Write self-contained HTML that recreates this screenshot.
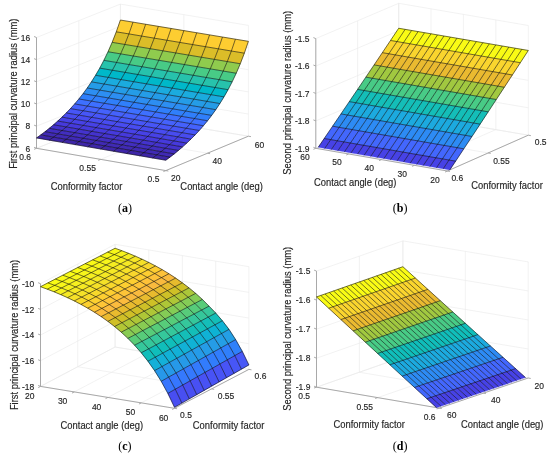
<!DOCTYPE html>
<html><head><meta charset="utf-8"><style>
html,body{margin:0;padding:0;background:#fff;}
svg{display:block;}
text{font-family:"Liberation Sans",Arial,sans-serif;fill:#262626;stroke:#262626;stroke-width:0.15px;}
</style></head><body>
<svg width="550" height="456" viewBox="0 0 550 456">
<rect width="550" height="456" fill="#fff"/>
<line x1="36.5" y1="148.3" x2="120.4" y2="114.9" stroke="#eaeaea" stroke-width="0.6"/>
<line x1="120.4" y1="114.9" x2="120.4" y2="4.1" stroke="#eaeaea" stroke-width="0.6"/>
<line x1="100.62" y1="159.36" x2="183.89" y2="125.46" stroke="#eaeaea" stroke-width="0.6"/>
<line x1="183.89" y1="125.46" x2="183.89" y2="14.66" stroke="#eaeaea" stroke-width="0.6"/>
<line x1="165.8" y1="170.6" x2="248.4" y2="136.2" stroke="#eaeaea" stroke-width="0.6"/>
<line x1="248.4" y1="136.2" x2="248.4" y2="25.4" stroke="#eaeaea" stroke-width="0.6"/>
<line x1="36.5" y1="148.3" x2="165.8" y2="170.6" stroke="#eaeaea" stroke-width="0.6"/>
<line x1="36.5" y1="148.3" x2="36.5" y2="37.5" stroke="#eaeaea" stroke-width="0.6"/>
<line x1="78.88" y1="131.43" x2="207.53" y2="153.22" stroke="#eaeaea" stroke-width="0.6"/>
<line x1="78.88" y1="131.43" x2="78.88" y2="20.63" stroke="#eaeaea" stroke-width="0.6"/>
<line x1="120.4" y1="114.9" x2="248.4" y2="136.2" stroke="#eaeaea" stroke-width="0.6"/>
<line x1="120.4" y1="114.9" x2="120.4" y2="4.1" stroke="#eaeaea" stroke-width="0.6"/>
<line x1="36.5" y1="148.3" x2="120.4" y2="114.9" stroke="#eaeaea" stroke-width="0.6"/>
<line x1="120.4" y1="114.9" x2="248.4" y2="136.2" stroke="#eaeaea" stroke-width="0.6"/>
<line x1="36.5" y1="126.14" x2="120.4" y2="92.74" stroke="#eaeaea" stroke-width="0.6"/>
<line x1="120.4" y1="92.74" x2="248.4" y2="114.04" stroke="#eaeaea" stroke-width="0.6"/>
<line x1="36.5" y1="103.98" x2="120.4" y2="70.58" stroke="#eaeaea" stroke-width="0.6"/>
<line x1="120.4" y1="70.58" x2="248.4" y2="91.88" stroke="#eaeaea" stroke-width="0.6"/>
<line x1="36.5" y1="81.82" x2="120.4" y2="48.42" stroke="#eaeaea" stroke-width="0.6"/>
<line x1="120.4" y1="48.42" x2="248.4" y2="69.72" stroke="#eaeaea" stroke-width="0.6"/>
<line x1="36.5" y1="59.66" x2="120.4" y2="26.26" stroke="#eaeaea" stroke-width="0.6"/>
<line x1="120.4" y1="26.26" x2="248.4" y2="47.56" stroke="#eaeaea" stroke-width="0.6"/>
<line x1="36.5" y1="37.5" x2="120.4" y2="4.1" stroke="#eaeaea" stroke-width="0.6"/>
<line x1="120.4" y1="4.1" x2="248.4" y2="25.4" stroke="#eaeaea" stroke-width="0.6"/>
<line x1="36.5" y1="148.3" x2="36.5" y2="37.5" stroke="#a0a0a0" stroke-width="0.9"/>
<line x1="36.5" y1="148.3" x2="165.8" y2="170.6" stroke="#a0a0a0" stroke-width="0.9"/>
<line x1="165.8" y1="170.6" x2="248.4" y2="136.2" stroke="#a0a0a0" stroke-width="0.9"/>
<line x1="36.5" y1="148.3" x2="34.1" y2="147.3" stroke="#a0a0a0" stroke-width="0.9"/>
<line x1="36.5" y1="126.14" x2="34.1" y2="125.14" stroke="#a0a0a0" stroke-width="0.9"/>
<line x1="36.5" y1="103.98" x2="34.1" y2="102.98" stroke="#a0a0a0" stroke-width="0.9"/>
<line x1="36.5" y1="81.82" x2="34.1" y2="80.82" stroke="#a0a0a0" stroke-width="0.9"/>
<line x1="36.5" y1="59.66" x2="34.1" y2="58.66" stroke="#a0a0a0" stroke-width="0.9"/>
<line x1="36.5" y1="37.5" x2="34.1" y2="36.5" stroke="#a0a0a0" stroke-width="0.9"/>
<line x1="36.5" y1="148.3" x2="34.1" y2="149.3" stroke="#a0a0a0" stroke-width="0.9"/>
<line x1="100.62" y1="159.36" x2="98.22" y2="160.36" stroke="#a0a0a0" stroke-width="0.9"/>
<line x1="165.8" y1="170.6" x2="163.4" y2="171.6" stroke="#a0a0a0" stroke-width="0.9"/>
<line x1="165.8" y1="170.6" x2="168.36" y2="171.04" stroke="#a0a0a0" stroke-width="0.9"/>
<line x1="207.53" y1="153.22" x2="210.09" y2="153.66" stroke="#a0a0a0" stroke-width="0.9"/>
<line x1="248.4" y1="136.2" x2="250.96" y2="136.64" stroke="#a0a0a0" stroke-width="0.9"/>
<polygon points="116.29,31.82 128.91,33.92 133.02,22.14 120.4,20.04" fill="#fdcd31" stroke="#fdcd31" stroke-width="0.3"/>
<polygon points="112.16,42.33 124.79,44.44 128.91,33.92 116.29,31.82" fill="#dbbd28" stroke="#dbbd28" stroke-width="0.3"/>
<polygon points="128.91,33.92 141.57,36.04 145.67,24.25 133.02,22.14" fill="#fdcd31" stroke="#fdcd31" stroke-width="0.3"/>
<polygon points="108.03,51.78 120.67,53.89 124.79,44.44 112.16,42.33" fill="#8fcb4e" stroke="#8fcb4e" stroke-width="0.3"/>
<polygon points="124.79,44.44 137.46,46.55 141.57,36.04 128.91,33.92" fill="#dbbd28" stroke="#dbbd28" stroke-width="0.3"/>
<polygon points="141.57,36.04 154.27,38.15 158.37,26.36 145.67,24.25" fill="#fdcd31" stroke="#fdcd31" stroke-width="0.3"/>
<polygon points="103.89,60.34 116.53,62.46 120.67,53.89 108.03,51.78" fill="#48cb86" stroke="#48cb86" stroke-width="0.3"/>
<polygon points="120.67,53.89 133.34,56.01 137.46,46.55 124.79,44.44" fill="#8fcb4e" stroke="#8fcb4e" stroke-width="0.3"/>
<polygon points="137.46,46.55 150.17,48.68 154.27,38.15 141.57,36.04" fill="#dbbd28" stroke="#dbbd28" stroke-width="0.3"/>
<polygon points="154.27,38.15 167.02,40.28 171.11,28.48 158.37,26.36" fill="#fdcd31" stroke="#fdcd31" stroke-width="0.3"/>
<polygon points="99.75,68.14 112.39,70.26 116.53,62.46 103.89,60.34" fill="#27c2ac" stroke="#27c2ac" stroke-width="0.3"/>
<polygon points="116.53,62.46 129.22,64.58 133.34,56.01 120.67,53.89" fill="#48cb86" stroke="#48cb86" stroke-width="0.3"/>
<polygon points="133.34,56.01 146.06,58.14 150.17,48.68 137.46,46.55" fill="#8fcb4e" stroke="#8fcb4e" stroke-width="0.3"/>
<polygon points="150.17,48.68 162.92,50.8 167.02,40.28 154.27,38.15" fill="#dbbd28" stroke="#dbbd28" stroke-width="0.3"/>
<polygon points="95.59,75.29 108.24,77.42 112.39,70.26 99.75,68.14" fill="#00b8c9" stroke="#00b8c9" stroke-width="0.3"/>
<polygon points="167.02,40.28 179.8,42.41 183.89,30.61 171.11,28.48" fill="#fdcd31" stroke="#fdcd31" stroke-width="0.3"/>
<polygon points="112.39,70.26 125.08,72.39 129.22,64.58 116.53,62.46" fill="#27c2ac" stroke="#27c2ac" stroke-width="0.3"/>
<polygon points="129.22,64.58 141.94,66.71 146.06,58.14 133.34,56.01" fill="#48cb86" stroke="#48cb86" stroke-width="0.3"/>
<polygon points="146.06,58.14 158.81,60.27 162.92,50.8 150.17,48.68" fill="#8fcb4e" stroke="#8fcb4e" stroke-width="0.3"/>
<polygon points="91.42,81.89 104.08,84.02 108.24,77.42 95.59,75.29" fill="#1babde" stroke="#1babde" stroke-width="0.3"/>
<polygon points="162.92,50.8 175.71,52.94 179.8,42.41 167.02,40.28" fill="#dbbd28" stroke="#dbbd28" stroke-width="0.3"/>
<polygon points="108.24,77.42 120.94,79.56 125.08,72.39 112.39,70.26" fill="#00b8c9" stroke="#00b8c9" stroke-width="0.3"/>
<polygon points="179.8,42.41 192.63,44.55 196.71,32.74 183.89,30.61" fill="#fdcd31" stroke="#fdcd31" stroke-width="0.3"/>
<polygon points="125.08,72.39 137.81,74.53 141.94,66.71 129.22,64.58" fill="#27c2ac" stroke="#27c2ac" stroke-width="0.3"/>
<polygon points="141.94,66.71 154.7,68.85 158.81,60.27 146.06,58.14" fill="#48cb86" stroke="#48cb86" stroke-width="0.3"/>
<polygon points="87.25,87.99 99.92,90.13 104.08,84.02 91.42,81.89" fill="#259ce7" stroke="#259ce7" stroke-width="0.3"/>
<polygon points="158.81,60.27 171.61,62.41 175.71,52.94 162.92,50.8" fill="#8fcb4e" stroke="#8fcb4e" stroke-width="0.3"/>
<polygon points="104.08,84.02 116.78,86.16 120.94,79.56 108.24,77.42" fill="#1babde" stroke="#1babde" stroke-width="0.3"/>
<polygon points="175.71,52.94 188.55,55.08 192.63,44.55 179.8,42.41" fill="#dbbd28" stroke="#dbbd28" stroke-width="0.3"/>
<polygon points="120.94,79.56 133.67,81.7 137.81,74.53 125.08,72.39" fill="#00b8c9" stroke="#00b8c9" stroke-width="0.3"/>
<polygon points="192.63,44.55 205.5,46.69 209.57,34.88 196.71,32.74" fill="#fdcd31" stroke="#fdcd31" stroke-width="0.3"/>
<polygon points="137.81,74.53 150.58,76.67 154.7,68.85 141.94,66.71" fill="#27c2ac" stroke="#27c2ac" stroke-width="0.3"/>
<polygon points="83.07,93.66 95.74,95.81 99.92,90.13 87.25,87.99" fill="#2d8ef2" stroke="#2d8ef2" stroke-width="0.3"/>
<polygon points="154.7,68.85 167.51,71 171.61,62.41 158.81,60.27" fill="#48cb86" stroke="#48cb86" stroke-width="0.3"/>
<polygon points="99.92,90.13 112.62,92.27 116.78,86.16 104.08,84.02" fill="#259ce7" stroke="#259ce7" stroke-width="0.3"/>
<polygon points="171.61,62.41 184.45,64.56 188.55,55.08 175.71,52.94" fill="#8fcb4e" stroke="#8fcb4e" stroke-width="0.3"/>
<polygon points="116.78,86.16 129.53,88.3 133.67,81.7 120.94,79.56" fill="#1babde" stroke="#1babde" stroke-width="0.3"/>
<polygon points="188.55,55.08 201.42,57.23 205.5,46.69 192.63,44.55" fill="#dbbd28" stroke="#dbbd28" stroke-width="0.3"/>
<polygon points="133.67,81.7 146.45,83.85 150.58,76.67 137.81,74.53" fill="#00b8c9" stroke="#00b8c9" stroke-width="0.3"/>
<polygon points="205.5,46.69 218.41,48.84 222.47,37.03 209.57,34.88" fill="#fdcd31" stroke="#fdcd31" stroke-width="0.3"/>
<polygon points="78.88,98.96 91.56,101.11 95.74,95.81 83.07,93.66" fill="#307ffb" stroke="#307ffb" stroke-width="0.3"/>
<polygon points="150.58,76.67 163.39,78.83 167.51,71 154.7,68.85" fill="#27c2ac" stroke="#27c2ac" stroke-width="0.3"/>
<polygon points="95.74,95.81 108.45,97.95 112.62,92.27 99.92,90.13" fill="#2d8ef2" stroke="#2d8ef2" stroke-width="0.3"/>
<polygon points="167.51,71 180.35,73.15 184.45,64.56 171.61,62.41" fill="#48cb86" stroke="#48cb86" stroke-width="0.3"/>
<polygon points="112.62,92.27 125.37,94.42 129.53,88.3 116.78,86.16" fill="#259ce7" stroke="#259ce7" stroke-width="0.3"/>
<polygon points="184.45,64.56 197.33,66.72 201.42,57.23 188.55,55.08" fill="#8fcb4e" stroke="#8fcb4e" stroke-width="0.3"/>
<polygon points="129.53,88.3 142.31,90.46 146.45,83.85 133.67,81.7" fill="#1babde" stroke="#1babde" stroke-width="0.3"/>
<polygon points="201.42,57.23 214.34,59.39 218.41,48.84 205.5,46.69" fill="#dbbd28" stroke="#dbbd28" stroke-width="0.3"/>
<polygon points="74.68,103.92 87.36,106.07 91.56,101.11 78.88,98.96" fill="#3e70ff" stroke="#3e70ff" stroke-width="0.3"/>
<polygon points="146.45,83.85 159.26,86 163.39,78.83 150.58,76.67" fill="#00b8c9" stroke="#00b8c9" stroke-width="0.3"/>
<polygon points="218.41,48.84 231.36,51 235.41,39.18 222.47,37.03" fill="#fdcd31" stroke="#fdcd31" stroke-width="0.3"/>
<polygon points="91.56,101.11 104.28,103.26 108.45,97.95 95.74,95.81" fill="#307ffb" stroke="#307ffb" stroke-width="0.3"/>
<polygon points="163.39,78.83 176.24,80.98 180.35,73.15 167.51,71" fill="#27c2ac" stroke="#27c2ac" stroke-width="0.3"/>
<polygon points="108.45,97.95 121.21,100.11 125.37,94.42 112.62,92.27" fill="#2d8ef2" stroke="#2d8ef2" stroke-width="0.3"/>
<polygon points="180.35,73.15 193.24,75.31 197.33,66.72 184.45,64.56" fill="#48cb86" stroke="#48cb86" stroke-width="0.3"/>
<polygon points="125.37,94.42 138.16,96.58 142.31,90.46 129.53,88.3" fill="#259ce7" stroke="#259ce7" stroke-width="0.3"/>
<polygon points="197.33,66.72 210.26,68.88 214.34,59.39 201.42,57.23" fill="#8fcb4e" stroke="#8fcb4e" stroke-width="0.3"/>
<polygon points="70.47,108.58 83.16,110.74 87.36,106.07 74.68,103.92" fill="#4562fc" stroke="#4562fc" stroke-width="0.3"/>
<polygon points="142.31,90.46 155.13,92.62 159.26,86 146.45,83.85" fill="#1babde" stroke="#1babde" stroke-width="0.3"/>
<polygon points="214.34,59.39 227.29,61.55 231.36,51 218.41,48.84" fill="#dbbd28" stroke="#dbbd28" stroke-width="0.3"/>
<polygon points="87.36,106.07 100.09,108.23 104.28,103.26 91.56,101.11" fill="#3e70ff" stroke="#3e70ff" stroke-width="0.3"/>
<polygon points="159.26,86 172.12,88.17 176.24,80.98 163.39,78.83" fill="#00b8c9" stroke="#00b8c9" stroke-width="0.3"/>
<polygon points="231.36,51 244.35,53.17 248.4,41.34 235.41,39.18" fill="#fdcd31" stroke="#fdcd31" stroke-width="0.3"/>
<polygon points="104.28,103.26 117.04,105.42 121.21,100.11 108.45,97.95" fill="#307ffb" stroke="#307ffb" stroke-width="0.3"/>
<polygon points="176.24,80.98 189.14,83.15 193.24,75.31 180.35,73.15" fill="#27c2ac" stroke="#27c2ac" stroke-width="0.3"/>
<polygon points="121.21,100.11 134,102.27 138.16,96.58 125.37,94.42" fill="#2d8ef2" stroke="#2d8ef2" stroke-width="0.3"/>
<polygon points="193.24,75.31 206.17,77.48 210.26,68.88 197.33,66.72" fill="#48cb86" stroke="#48cb86" stroke-width="0.3"/>
<polygon points="66.26,112.97 78.95,115.13 83.16,110.74 70.47,108.58" fill="#4756f7" stroke="#4756f7" stroke-width="0.3"/>
<polygon points="138.16,96.58 150.99,98.75 155.13,92.62 142.31,90.46" fill="#259ce7" stroke="#259ce7" stroke-width="0.3"/>
<polygon points="210.26,68.88 223.22,71.05 227.29,61.55 214.34,59.39" fill="#8fcb4e" stroke="#8fcb4e" stroke-width="0.3"/>
<polygon points="83.16,110.74 95.89,112.9 100.09,108.23 87.36,106.07" fill="#4562fc" stroke="#4562fc" stroke-width="0.3"/>
<polygon points="155.13,92.62 168,94.79 172.12,88.17 159.26,86" fill="#1babde" stroke="#1babde" stroke-width="0.3"/>
<polygon points="227.29,61.55 240.29,63.73 244.35,53.17 231.36,51" fill="#dbbd28" stroke="#dbbd28" stroke-width="0.3"/>
<polygon points="100.09,108.23 112.86,110.4 117.04,105.42 104.28,103.26" fill="#3e70ff" stroke="#3e70ff" stroke-width="0.3"/>
<polygon points="172.12,88.17 185.02,90.33 189.14,83.15 176.24,80.98" fill="#00b8c9" stroke="#00b8c9" stroke-width="0.3"/>
<polygon points="117.04,105.42 129.84,107.59 134,102.27 121.21,100.11" fill="#307ffb" stroke="#307ffb" stroke-width="0.3"/>
<polygon points="189.14,83.15 202.07,85.32 206.17,77.48 193.24,75.31" fill="#27c2ac" stroke="#27c2ac" stroke-width="0.3"/>
<polygon points="62.03,117.12 74.73,119.28 78.95,115.13 66.26,112.97" fill="#484cf0" stroke="#484cf0" stroke-width="0.3"/>
<polygon points="134,102.27 146.84,104.45 150.99,98.75 138.16,96.58" fill="#2d8ef2" stroke="#2d8ef2" stroke-width="0.3"/>
<polygon points="206.17,77.48 219.14,79.65 223.22,71.05 210.26,68.88" fill="#48cb86" stroke="#48cb86" stroke-width="0.3"/>
<polygon points="78.95,115.13 91.69,117.3 95.89,112.9 83.16,110.74" fill="#4756f7" stroke="#4756f7" stroke-width="0.3"/>
<polygon points="150.99,98.75 163.86,100.92 168,94.79 155.13,92.62" fill="#259ce7" stroke="#259ce7" stroke-width="0.3"/>
<polygon points="223.22,71.05 236.23,73.22 240.29,63.73 227.29,61.55" fill="#8fcb4e" stroke="#8fcb4e" stroke-width="0.3"/>
<polygon points="95.89,112.9 108.67,115.07 112.86,110.4 100.09,108.23" fill="#4562fc" stroke="#4562fc" stroke-width="0.3"/>
<polygon points="168,94.79 180.9,96.96 185.02,90.33 172.12,88.17" fill="#1babde" stroke="#1babde" stroke-width="0.3"/>
<polygon points="112.86,110.4 125.66,112.57 129.84,107.59 117.04,105.42" fill="#3e70ff" stroke="#3e70ff" stroke-width="0.3"/>
<polygon points="185.02,90.33 197.97,92.51 202.07,85.32 189.14,83.15" fill="#00b8c9" stroke="#00b8c9" stroke-width="0.3"/>
<polygon points="57.8,121.04 70.51,123.22 74.73,119.28 62.03,117.12" fill="#4742e6" stroke="#4742e6" stroke-width="0.3"/>
<polygon points="129.84,107.59 142.68,109.77 146.84,104.45 134,102.27" fill="#307ffb" stroke="#307ffb" stroke-width="0.3"/>
<polygon points="202.07,85.32 215.05,87.5 219.14,79.65 206.17,77.48" fill="#27c2ac" stroke="#27c2ac" stroke-width="0.3"/>
<polygon points="74.73,119.28 87.48,121.46 91.69,117.3 78.95,115.13" fill="#484cf0" stroke="#484cf0" stroke-width="0.3"/>
<polygon points="146.84,104.45 159.72,106.62 163.86,100.92 150.99,98.75" fill="#2d8ef2" stroke="#2d8ef2" stroke-width="0.3"/>
<polygon points="91.69,117.3 104.47,119.48 108.67,115.07 95.89,112.9" fill="#4756f7" stroke="#4756f7" stroke-width="0.3"/>
<polygon points="219.14,79.65 232.15,81.83 236.23,73.22 223.22,71.05" fill="#48cb86" stroke="#48cb86" stroke-width="0.3"/>
<polygon points="163.86,100.92 176.78,103.1 180.9,96.96 168,94.79" fill="#259ce7" stroke="#259ce7" stroke-width="0.3"/>
<polygon points="108.67,115.07 121.48,117.25 125.66,112.57 112.86,110.4" fill="#4562fc" stroke="#4562fc" stroke-width="0.3"/>
<polygon points="53.56,124.77 66.27,126.95 70.51,123.22 57.8,121.04" fill="#463adc" stroke="#463adc" stroke-width="0.3"/>
<polygon points="180.9,96.96 193.85,99.14 197.97,92.51 185.02,90.33" fill="#1babde" stroke="#1babde" stroke-width="0.3"/>
<polygon points="125.66,112.57 138.51,114.75 142.68,109.77 129.84,107.59" fill="#3e70ff" stroke="#3e70ff" stroke-width="0.3"/>
<polygon points="70.51,123.22 83.26,125.4 87.48,121.46 74.73,119.28" fill="#4742e6" stroke="#4742e6" stroke-width="0.3"/>
<polygon points="197.97,92.51 210.95,94.7 215.05,87.5 202.07,85.32" fill="#00b8c9" stroke="#00b8c9" stroke-width="0.3"/>
<polygon points="142.68,109.77 155.57,111.95 159.72,106.62 146.84,104.45" fill="#307ffb" stroke="#307ffb" stroke-width="0.3"/>
<polygon points="87.48,121.46 100.26,123.64 104.47,119.48 91.69,117.3" fill="#484cf0" stroke="#484cf0" stroke-width="0.3"/>
<polygon points="215.05,87.5 228.07,89.68 232.15,81.83 219.14,79.65" fill="#27c2ac" stroke="#27c2ac" stroke-width="0.3"/>
<polygon points="159.72,106.62 172.64,108.81 176.78,103.1 163.86,100.92" fill="#2d8ef2" stroke="#2d8ef2" stroke-width="0.3"/>
<polygon points="104.47,119.48 117.29,121.66 121.48,117.25 108.67,115.07" fill="#4756f7" stroke="#4756f7" stroke-width="0.3"/>
<polygon points="49.31,128.31 62.03,130.49 66.27,126.95 53.56,124.77" fill="#4433cd" stroke="#4433cd" stroke-width="0.3"/>
<polygon points="176.78,103.1 189.73,105.29 193.85,99.14 180.9,96.96" fill="#259ce7" stroke="#259ce7" stroke-width="0.3"/>
<polygon points="121.48,117.25 134.34,119.44 138.51,114.75 125.66,112.57" fill="#4562fc" stroke="#4562fc" stroke-width="0.3"/>
<polygon points="66.27,126.95 79.03,129.13 83.26,125.4 70.51,123.22" fill="#463adc" stroke="#463adc" stroke-width="0.3"/>
<polygon points="193.85,99.14 206.85,101.33 210.95,94.7 197.97,92.51" fill="#1babde" stroke="#1babde" stroke-width="0.3"/>
<polygon points="138.51,114.75 151.41,116.94 155.57,111.95 142.68,109.77" fill="#3e70ff" stroke="#3e70ff" stroke-width="0.3"/>
<polygon points="83.26,125.4 96.05,127.58 100.26,123.64 87.48,121.46" fill="#4742e6" stroke="#4742e6" stroke-width="0.3"/>
<polygon points="210.95,94.7 223.98,96.89 228.07,89.68 215.05,87.5" fill="#00b8c9" stroke="#00b8c9" stroke-width="0.3"/>
<polygon points="155.57,111.95 168.49,114.14 172.64,108.81 159.72,106.62" fill="#307ffb" stroke="#307ffb" stroke-width="0.3"/>
<polygon points="100.26,123.64 113.09,125.83 117.29,121.66 104.47,119.48" fill="#484cf0" stroke="#484cf0" stroke-width="0.3"/>
<polygon points="45.05,131.68 57.77,133.87 62.03,130.49 49.31,128.31" fill="#422ebf" stroke="#422ebf" stroke-width="0.3"/>
<polygon points="172.64,108.81 185.6,111 189.73,105.29 176.78,103.1" fill="#2d8ef2" stroke="#2d8ef2" stroke-width="0.3"/>
<polygon points="117.29,121.66 130.15,123.85 134.34,119.44 121.48,117.25" fill="#4756f7" stroke="#4756f7" stroke-width="0.3"/>
<polygon points="62.03,130.49 74.79,132.68 79.03,129.13 66.27,126.95" fill="#4433cd" stroke="#4433cd" stroke-width="0.3"/>
<polygon points="189.73,105.29 202.73,107.48 206.85,101.33 193.85,99.14" fill="#259ce7" stroke="#259ce7" stroke-width="0.3"/>
<polygon points="134.34,119.44 147.24,121.63 151.41,116.94 138.51,114.75" fill="#4562fc" stroke="#4562fc" stroke-width="0.3"/>
<polygon points="79.03,129.13 91.83,131.32 96.05,127.58 83.26,125.4" fill="#463adc" stroke="#463adc" stroke-width="0.3"/>
<polygon points="206.85,101.33 219.88,103.53 223.98,96.89 210.95,94.7" fill="#1babde" stroke="#1babde" stroke-width="0.3"/>
<polygon points="151.41,116.94 164.34,119.13 168.49,114.14 155.57,111.95" fill="#3e70ff" stroke="#3e70ff" stroke-width="0.3"/>
<polygon points="96.05,127.58 108.88,129.78 113.09,125.83 100.26,123.64" fill="#4742e6" stroke="#4742e6" stroke-width="0.3"/>
<polygon points="40.78,134.89 53.51,137.08 57.77,133.87 45.05,131.68" fill="#402ab4" stroke="#402ab4" stroke-width="0.3"/>
<polygon points="168.49,114.14 181.46,116.34 185.6,111 172.64,108.81" fill="#307ffb" stroke="#307ffb" stroke-width="0.3"/>
<polygon points="113.09,125.83 125.96,128.02 130.15,123.85 117.29,121.66" fill="#484cf0" stroke="#484cf0" stroke-width="0.3"/>
<polygon points="57.77,133.87 70.54,136.06 74.79,132.68 62.03,130.49" fill="#422ebf" stroke="#422ebf" stroke-width="0.3"/>
<polygon points="185.6,111 198.61,113.2 202.73,107.48 189.73,105.29" fill="#2d8ef2" stroke="#2d8ef2" stroke-width="0.3"/>
<polygon points="130.15,123.85 143.06,126.05 147.24,121.63 134.34,119.44" fill="#4756f7" stroke="#4756f7" stroke-width="0.3"/>
<polygon points="74.79,132.68 87.59,134.88 91.83,131.32 79.03,129.13" fill="#4433cd" stroke="#4433cd" stroke-width="0.3"/>
<polygon points="202.73,107.48 215.77,109.68 219.88,103.53 206.85,101.33" fill="#259ce7" stroke="#259ce7" stroke-width="0.3"/>
<polygon points="147.24,121.63 160.18,123.83 164.34,119.13 151.41,116.94" fill="#4562fc" stroke="#4562fc" stroke-width="0.3"/>
<polygon points="91.83,131.32 104.67,133.52 108.88,129.78 96.05,127.58" fill="#463adc" stroke="#463adc" stroke-width="0.3"/>
<polygon points="36.5,137.95 49.24,140.15 53.51,137.08 40.78,134.89" fill="#3e26a8" stroke="#3e26a8" stroke-width="0.3"/>
<polygon points="164.34,119.13 177.32,121.34 181.46,116.34 168.49,114.14" fill="#3e70ff" stroke="#3e70ff" stroke-width="0.3"/>
<polygon points="108.88,129.78 121.76,131.98 125.96,128.02 113.09,125.83" fill="#4742e6" stroke="#4742e6" stroke-width="0.3"/>
<polygon points="53.51,137.08 66.29,139.28 70.54,136.06 57.77,133.87" fill="#402ab4" stroke="#402ab4" stroke-width="0.3"/>
<polygon points="181.46,116.34 194.47,118.54 198.61,113.2 185.6,111" fill="#307ffb" stroke="#307ffb" stroke-width="0.3"/>
<polygon points="125.96,128.02 138.87,130.23 143.06,126.05 130.15,123.85" fill="#484cf0" stroke="#484cf0" stroke-width="0.3"/>
<polygon points="70.54,136.06 83.35,138.26 87.59,134.88 74.79,132.68" fill="#422ebf" stroke="#422ebf" stroke-width="0.3"/>
<polygon points="198.61,113.2 211.65,115.4 215.77,109.68 202.73,107.48" fill="#2d8ef2" stroke="#2d8ef2" stroke-width="0.3"/>
<polygon points="143.06,126.05 156.01,128.25 160.18,123.83 147.24,121.63" fill="#4756f7" stroke="#4756f7" stroke-width="0.3"/>
<polygon points="87.59,134.88 100.44,137.08 104.67,133.52 91.83,131.32" fill="#4433cd" stroke="#4433cd" stroke-width="0.3"/>
<polygon points="160.18,123.83 173.16,126.04 177.32,121.34 164.34,119.13" fill="#4562fc" stroke="#4562fc" stroke-width="0.3"/>
<polygon points="104.67,133.52 117.55,135.73 121.76,131.98 108.88,129.78" fill="#463adc" stroke="#463adc" stroke-width="0.3"/>
<polygon points="49.24,140.15 62.02,142.36 66.29,139.28 53.51,137.08" fill="#3e26a8" stroke="#3e26a8" stroke-width="0.3"/>
<polygon points="177.32,121.34 190.33,123.54 194.47,118.54 181.46,116.34" fill="#3e70ff" stroke="#3e70ff" stroke-width="0.3"/>
<polygon points="121.76,131.98 134.68,134.18 138.87,130.23 125.96,128.02" fill="#4742e6" stroke="#4742e6" stroke-width="0.3"/>
<polygon points="66.29,139.28 79.1,141.49 83.35,138.26 70.54,136.06" fill="#402ab4" stroke="#402ab4" stroke-width="0.3"/>
<polygon points="194.47,118.54 207.53,120.75 211.65,115.4 198.61,113.2" fill="#307ffb" stroke="#307ffb" stroke-width="0.3"/>
<polygon points="138.87,130.23 151.83,132.44 156.01,128.25 143.06,126.05" fill="#484cf0" stroke="#484cf0" stroke-width="0.3"/>
<polygon points="83.35,138.26 96.21,140.47 100.44,137.08 87.59,134.88" fill="#422ebf" stroke="#422ebf" stroke-width="0.3"/>
<polygon points="156.01,128.25 169,130.47 173.16,126.04 160.18,123.83" fill="#4756f7" stroke="#4756f7" stroke-width="0.3"/>
<polygon points="100.44,137.08 113.33,139.29 117.55,135.73 104.67,133.52" fill="#4433cd" stroke="#4433cd" stroke-width="0.3"/>
<polygon points="173.16,126.04 186.18,128.25 190.33,123.54 177.32,121.34" fill="#4562fc" stroke="#4562fc" stroke-width="0.3"/>
<polygon points="117.55,135.73 130.47,137.94 134.68,134.18 121.76,131.98" fill="#463adc" stroke="#463adc" stroke-width="0.3"/>
<polygon points="62.02,142.36 74.85,144.57 79.1,141.49 66.29,139.28" fill="#3e26a8" stroke="#3e26a8" stroke-width="0.3"/>
<polygon points="190.33,123.54 203.4,125.76 207.53,120.75 194.47,118.54" fill="#3e70ff" stroke="#3e70ff" stroke-width="0.3"/>
<polygon points="134.68,134.18 147.64,136.4 151.83,132.44 138.87,130.23" fill="#4742e6" stroke="#4742e6" stroke-width="0.3"/>
<polygon points="79.1,141.49 91.96,143.7 96.21,140.47 83.35,138.26" fill="#402ab4" stroke="#402ab4" stroke-width="0.3"/>
<polygon points="151.83,132.44 164.82,134.65 169,130.47 156.01,128.25" fill="#484cf0" stroke="#484cf0" stroke-width="0.3"/>
<polygon points="96.21,140.47 109.1,142.69 113.33,139.29 100.44,137.08" fill="#422ebf" stroke="#422ebf" stroke-width="0.3"/>
<polygon points="169,130.47 182.03,132.69 186.18,128.25 173.16,126.04" fill="#4756f7" stroke="#4756f7" stroke-width="0.3"/>
<polygon points="113.33,139.29 126.26,141.51 130.47,137.94 117.55,135.73" fill="#4433cd" stroke="#4433cd" stroke-width="0.3"/>
<polygon points="186.18,128.25 199.25,130.47 203.4,125.76 190.33,123.54" fill="#4562fc" stroke="#4562fc" stroke-width="0.3"/>
<polygon points="130.47,137.94 143.44,140.16 147.64,136.4 134.68,134.18" fill="#463adc" stroke="#463adc" stroke-width="0.3"/>
<polygon points="74.85,144.57 87.71,146.79 91.96,143.7 79.1,141.49" fill="#3e26a8" stroke="#3e26a8" stroke-width="0.3"/>
<polygon points="147.64,136.4 160.64,138.62 164.82,134.65 151.83,132.44" fill="#4742e6" stroke="#4742e6" stroke-width="0.3"/>
<polygon points="91.96,143.7 104.87,145.92 109.1,142.69 96.21,140.47" fill="#402ab4" stroke="#402ab4" stroke-width="0.3"/>
<polygon points="164.82,134.65 177.86,136.88 182.03,132.69 169,130.47" fill="#484cf0" stroke="#484cf0" stroke-width="0.3"/>
<polygon points="109.1,142.69 122.04,144.91 126.26,141.51 113.33,139.29" fill="#422ebf" stroke="#422ebf" stroke-width="0.3"/>
<polygon points="182.03,132.69 195.1,134.91 199.25,130.47 186.18,128.25" fill="#4756f7" stroke="#4756f7" stroke-width="0.3"/>
<polygon points="126.26,141.51 139.23,143.73 143.44,140.16 130.47,137.94" fill="#4433cd" stroke="#4433cd" stroke-width="0.3"/>
<polygon points="143.44,140.16 156.45,142.39 160.64,138.62 147.64,136.4" fill="#463adc" stroke="#463adc" stroke-width="0.3"/>
<polygon points="87.71,146.79 100.62,149.01 104.87,145.92 91.96,143.7" fill="#3e26a8" stroke="#3e26a8" stroke-width="0.3"/>
<polygon points="160.64,138.62 173.69,140.85 177.86,136.88 164.82,134.65" fill="#4742e6" stroke="#4742e6" stroke-width="0.3"/>
<polygon points="104.87,145.92 117.81,148.15 122.04,144.91 109.1,142.69" fill="#402ab4" stroke="#402ab4" stroke-width="0.3"/>
<polygon points="177.86,136.88 190.94,139.11 195.1,134.91 182.03,132.69" fill="#484cf0" stroke="#484cf0" stroke-width="0.3"/>
<polygon points="122.04,144.91 135.02,147.14 139.23,143.73 126.26,141.51" fill="#422ebf" stroke="#422ebf" stroke-width="0.3"/>
<polygon points="139.23,143.73 152.25,145.97 156.45,142.39 143.44,140.16" fill="#4433cd" stroke="#4433cd" stroke-width="0.3"/>
<polygon points="156.45,142.39 169.5,144.62 173.69,140.85 160.64,138.62" fill="#463adc" stroke="#463adc" stroke-width="0.3"/>
<polygon points="100.62,149.01 113.57,151.25 117.81,148.15 104.87,145.92" fill="#3e26a8" stroke="#3e26a8" stroke-width="0.3"/>
<polygon points="173.69,140.85 186.77,143.09 190.94,139.11 177.86,136.88" fill="#4742e6" stroke="#4742e6" stroke-width="0.3"/>
<polygon points="117.81,148.15 130.8,150.39 135.02,147.14 122.04,144.91" fill="#402ab4" stroke="#402ab4" stroke-width="0.3"/>
<polygon points="135.02,147.14 148.04,149.38 152.25,145.97 139.23,143.73" fill="#422ebf" stroke="#422ebf" stroke-width="0.3"/>
<polygon points="152.25,145.97 165.31,148.21 169.5,144.62 156.45,142.39" fill="#4433cd" stroke="#4433cd" stroke-width="0.3"/>
<polygon points="169.5,144.62 182.6,146.86 186.77,143.09 173.69,140.85" fill="#463adc" stroke="#463adc" stroke-width="0.3"/>
<polygon points="113.57,151.25 126.56,153.49 130.8,150.39 117.81,148.15" fill="#3e26a8" stroke="#3e26a8" stroke-width="0.3"/>
<polygon points="130.8,150.39 143.82,152.63 148.04,149.38 135.02,147.14" fill="#402ab4" stroke="#402ab4" stroke-width="0.3"/>
<polygon points="148.04,149.38 161.11,151.62 165.31,148.21 152.25,145.97" fill="#422ebf" stroke="#422ebf" stroke-width="0.3"/>
<polygon points="165.31,148.21 178.41,150.45 182.6,146.86 169.5,144.62" fill="#4433cd" stroke="#4433cd" stroke-width="0.3"/>
<polygon points="126.56,153.49 139.6,155.73 143.82,152.63 130.8,150.39" fill="#3e26a8" stroke="#3e26a8" stroke-width="0.3"/>
<polygon points="143.82,152.63 156.9,154.88 161.11,151.62 148.04,149.38" fill="#402ab4" stroke="#402ab4" stroke-width="0.3"/>
<polygon points="161.11,151.62 174.22,153.88 178.41,150.45 165.31,148.21" fill="#422ebf" stroke="#422ebf" stroke-width="0.3"/>
<polygon points="139.6,155.73 152.68,157.99 156.9,154.88 143.82,152.63" fill="#3e26a8" stroke="#3e26a8" stroke-width="0.3"/>
<polygon points="156.9,154.88 170.01,157.14 174.22,153.88 161.11,151.62" fill="#402ab4" stroke="#402ab4" stroke-width="0.3"/>
<polygon points="152.68,157.99 165.8,160.25 170.01,157.14 156.9,154.88" fill="#3e26a8" stroke="#3e26a8" stroke-width="0.3"/>
<path d="M36.5 137.95L40.78 134.89L45.05 131.68L49.31 128.31L53.56 124.77L57.8 121.04L62.03 117.12L66.26 112.97L70.47 108.58L74.68 103.92L78.88 98.96L83.07 93.66L87.25 87.99L91.42 81.89L95.59 75.29L99.75 68.14L103.89 60.34L108.03 51.78L112.16 42.33L116.29 31.82L120.4 20.04M49.24 140.15L53.51 137.08L57.77 133.87L62.03 130.49L66.27 126.95L70.51 123.22L74.73 119.28L78.95 115.13L83.16 110.74L87.36 106.07L91.56 101.11L95.74 95.81L99.92 90.13L104.08 84.02L108.24 77.42L112.39 70.26L116.53 62.46L120.67 53.89L124.79 44.44L128.91 33.92L133.02 22.14M62.02 142.36L66.29 139.28L70.54 136.06L74.79 132.68L79.03 129.13L83.26 125.4L87.48 121.46L91.69 117.3L95.89 112.9L100.09 108.23L104.28 103.26L108.45 97.95L112.62 92.27L116.78 86.16L120.94 79.56L125.08 72.39L129.22 64.58L133.34 56.01L137.46 46.55L141.57 36.04L145.67 24.25M74.85 144.57L79.1 141.49L83.35 138.26L87.59 134.88L91.83 131.32L96.05 127.58L100.26 123.64L104.47 119.48L108.67 115.07L112.86 110.4L117.04 105.42L121.21 100.11L125.37 94.42L129.53 88.3L133.67 81.7L137.81 74.53L141.94 66.71L146.06 58.14L150.17 48.68L154.27 38.15L158.37 26.36M87.71 146.79L91.96 143.7L96.21 140.47L100.44 137.08L104.67 133.52L108.88 129.78L113.09 125.83L117.29 121.66L121.48 117.25L125.66 112.57L129.84 107.59L134 102.27L138.16 96.58L142.31 90.46L146.45 83.85L150.58 76.67L154.7 68.85L158.81 60.27L162.92 50.8L167.02 40.28L171.11 28.48M100.62 149.01L104.87 145.92L109.1 142.69L113.33 139.29L117.55 135.73L121.76 131.98L125.96 128.02L130.15 123.85L134.34 119.44L138.51 114.75L142.68 109.77L146.84 104.45L150.99 98.75L155.13 92.62L159.26 86L163.39 78.83L167.51 71L171.61 62.41L175.71 52.94L179.8 42.41L183.89 30.61M113.57 151.25L117.81 148.15L122.04 144.91L126.26 141.51L130.47 137.94L134.68 134.18L138.87 130.23L143.06 126.05L147.24 121.63L151.41 116.94L155.57 111.95L159.72 106.62L163.86 100.92L168 94.79L172.12 88.17L176.24 80.98L180.35 73.15L184.45 64.56L188.55 55.08L192.63 44.55L196.71 32.74M126.56 153.49L130.8 150.39L135.02 147.14L139.23 143.73L143.44 140.16L147.64 136.4L151.83 132.44L156.01 128.25L160.18 123.83L164.34 119.13L168.49 114.14L172.64 108.81L176.78 103.1L180.9 96.96L185.02 90.33L189.14 83.15L193.24 75.31L197.33 66.72L201.42 57.23L205.5 46.69L209.57 34.88M139.6 155.73L143.82 152.63L148.04 149.38L152.25 145.97L156.45 142.39L160.64 138.62L164.82 134.65L169 130.47L173.16 126.04L177.32 121.34L181.46 116.34L185.6 111L189.73 105.29L193.85 99.14L197.97 92.51L202.07 85.32L206.17 77.48L210.26 68.88L214.34 59.39L218.41 48.84L222.47 37.03M152.68 157.99L156.9 154.88L161.11 151.62L165.31 148.21L169.5 144.62L173.69 140.85L177.86 136.88L182.03 132.69L186.18 128.25L190.33 123.54L194.47 118.54L198.61 113.2L202.73 107.48L206.85 101.33L210.95 94.7L215.05 87.5L219.14 79.65L223.22 71.05L227.29 61.55L231.36 51L235.41 39.18M165.8 160.25L170.01 157.14L174.22 153.88L178.41 150.45L182.6 146.86L186.77 143.09L190.94 139.11L195.1 134.91L199.25 130.47L203.4 125.76L207.53 120.75L211.65 115.4L215.77 109.68L219.88 103.53L223.98 96.89L228.07 89.68L232.15 81.83L236.23 73.22L240.29 63.73L244.35 53.17L248.4 41.34M36.5 137.95L49.24 140.15L62.02 142.36L74.85 144.57L87.71 146.79L100.62 149.01L113.57 151.25L126.56 153.49L139.6 155.73L152.68 157.99L165.8 160.25M40.78 134.89L53.51 137.08L66.29 139.28L79.1 141.49L91.96 143.7L104.87 145.92L117.81 148.15L130.8 150.39L143.82 152.63L156.9 154.88L170.01 157.14M45.05 131.68L57.77 133.87L70.54 136.06L83.35 138.26L96.21 140.47L109.1 142.69L122.04 144.91L135.02 147.14L148.04 149.38L161.11 151.62L174.22 153.88M49.31 128.31L62.03 130.49L74.79 132.68L87.59 134.88L100.44 137.08L113.33 139.29L126.26 141.51L139.23 143.73L152.25 145.97L165.31 148.21L178.41 150.45M53.56 124.77L66.27 126.95L79.03 129.13L91.83 131.32L104.67 133.52L117.55 135.73L130.47 137.94L143.44 140.16L156.45 142.39L169.5 144.62L182.6 146.86M57.8 121.04L70.51 123.22L83.26 125.4L96.05 127.58L108.88 129.78L121.76 131.98L134.68 134.18L147.64 136.4L160.64 138.62L173.69 140.85L186.77 143.09M62.03 117.12L74.73 119.28L87.48 121.46L100.26 123.64L113.09 125.83L125.96 128.02L138.87 130.23L151.83 132.44L164.82 134.65L177.86 136.88L190.94 139.11M66.26 112.97L78.95 115.13L91.69 117.3L104.47 119.48L117.29 121.66L130.15 123.85L143.06 126.05L156.01 128.25L169 130.47L182.03 132.69L195.1 134.91M70.47 108.58L83.16 110.74L95.89 112.9L108.67 115.07L121.48 117.25L134.34 119.44L147.24 121.63L160.18 123.83L173.16 126.04L186.18 128.25L199.25 130.47M74.68 103.92L87.36 106.07L100.09 108.23L112.86 110.4L125.66 112.57L138.51 114.75L151.41 116.94L164.34 119.13L177.32 121.34L190.33 123.54L203.4 125.76M78.88 98.96L91.56 101.11L104.28 103.26L117.04 105.42L129.84 107.59L142.68 109.77L155.57 111.95L168.49 114.14L181.46 116.34L194.47 118.54L207.53 120.75M83.07 93.66L95.74 95.81L108.45 97.95L121.21 100.11L134 102.27L146.84 104.45L159.72 106.62L172.64 108.81L185.6 111L198.61 113.2L211.65 115.4M87.25 87.99L99.92 90.13L112.62 92.27L125.37 94.42L138.16 96.58L150.99 98.75L163.86 100.92L176.78 103.1L189.73 105.29L202.73 107.48L215.77 109.68M91.42 81.89L104.08 84.02L116.78 86.16L129.53 88.3L142.31 90.46L155.13 92.62L168 94.79L180.9 96.96L193.85 99.14L206.85 101.33L219.88 103.53M95.59 75.29L108.24 77.42L120.94 79.56L133.67 81.7L146.45 83.85L159.26 86L172.12 88.17L185.02 90.33L197.97 92.51L210.95 94.7L223.98 96.89M99.75 68.14L112.39 70.26L125.08 72.39L137.81 74.53L150.58 76.67L163.39 78.83L176.24 80.98L189.14 83.15L202.07 85.32L215.05 87.5L228.07 89.68M103.89 60.34L116.53 62.46L129.22 64.58L141.94 66.71L154.7 68.85L167.51 71L180.35 73.15L193.24 75.31L206.17 77.48L219.14 79.65L232.15 81.83M108.03 51.78L120.67 53.89L133.34 56.01L146.06 58.14L158.81 60.27L171.61 62.41L184.45 64.56L197.33 66.72L210.26 68.88L223.22 71.05L236.23 73.22M112.16 42.33L124.79 44.44L137.46 46.55L150.17 48.68L162.92 50.8L175.71 52.94L188.55 55.08L201.42 57.23L214.34 59.39L227.29 61.55L240.29 63.73M116.29 31.82L128.91 33.92L141.57 36.04L154.27 38.15L167.02 40.28L179.8 42.41L192.63 44.55L205.5 46.69L218.41 48.84L231.36 51L244.35 53.17M120.4 20.04L133.02 22.14L145.67 24.25L158.37 26.36L171.11 28.48L183.89 30.61L196.71 32.74L209.57 34.88L222.47 37.03L235.41 39.18L248.4 41.34" fill="none" stroke="#000" stroke-width="0.65" stroke-opacity="0.85" stroke-linejoin="round"/>
<text transform="translate(30.2,151.51) scale(1.0,1.08)" font-size="8.5" text-anchor="end">6</text>
<text transform="translate(30.2,129.35) scale(1.0,1.08)" font-size="8.5" text-anchor="end">8</text>
<text transform="translate(30.2,107.19) scale(1.0,1.08)" font-size="8.5" text-anchor="end">10</text>
<text transform="translate(30.2,85.03) scale(1.0,1.08)" font-size="8.5" text-anchor="end">12</text>
<text transform="translate(30.2,62.87) scale(1.0,1.08)" font-size="8.5" text-anchor="end">14</text>
<text transform="translate(30.2,40.71) scale(1.0,1.08)" font-size="8.5" text-anchor="end">16</text>
<text transform="translate(25.1,160.01) scale(1.0,1.08)" font-size="8.5" text-anchor="middle">0.6</text>
<text transform="translate(87.6,171.41) scale(1.0,1.08)" font-size="8.5" text-anchor="middle">0.55</text>
<text transform="translate(153.5,182.31) scale(1.0,1.08)" font-size="8.5" text-anchor="middle">0.5</text>
<text transform="translate(175.7,181.41) scale(1.0,1.08)" font-size="8.5" text-anchor="middle">20</text>
<text transform="translate(217.3,164.21) scale(1.0,1.08)" font-size="8.5" text-anchor="middle">40</text>
<text transform="translate(259.5,147.51) scale(1.0,1.08)" font-size="8.5" text-anchor="middle">60</text>
<text transform="translate(86.5,189.6) scale(1.0,1.1)" font-size="9.4" text-anchor="middle">Conformity factor</text>
<text transform="translate(221.6,189.6) scale(1.0,1.1)" font-size="9.4" text-anchor="middle">Contact angle (deg)</text>
<text x="0" y="0" font-size="9.4" text-anchor="middle" transform="translate(17.1,93.7) rotate(-90) scale(1.0,1.1)">First principal curvature radius (mm)</text>
<line x1="315.8" y1="148.3" x2="398.7" y2="113" stroke="#eaeaea" stroke-width="0.6"/>
<line x1="398.7" y1="113" x2="398.7" y2="3.3" stroke="#eaeaea" stroke-width="0.6"/>
<line x1="348.62" y1="153.96" x2="431.02" y2="118.54" stroke="#eaeaea" stroke-width="0.6"/>
<line x1="431.02" y1="118.54" x2="431.02" y2="8.84" stroke="#eaeaea" stroke-width="0.6"/>
<line x1="381.5" y1="159.63" x2="463.4" y2="124.08" stroke="#eaeaea" stroke-width="0.6"/>
<line x1="463.4" y1="124.08" x2="463.4" y2="14.38" stroke="#eaeaea" stroke-width="0.6"/>
<line x1="414.42" y1="165.31" x2="495.82" y2="129.64" stroke="#eaeaea" stroke-width="0.6"/>
<line x1="495.82" y1="129.64" x2="495.82" y2="19.94" stroke="#eaeaea" stroke-width="0.6"/>
<line x1="447.4" y1="171" x2="528.3" y2="135.2" stroke="#eaeaea" stroke-width="0.6"/>
<line x1="528.3" y1="135.2" x2="528.3" y2="25.5" stroke="#eaeaea" stroke-width="0.6"/>
<line x1="315.8" y1="148.3" x2="447.4" y2="171" stroke="#eaeaea" stroke-width="0.6"/>
<line x1="315.8" y1="148.3" x2="315.8" y2="38.6" stroke="#eaeaea" stroke-width="0.6"/>
<line x1="357.61" y1="130.5" x2="488.2" y2="152.95" stroke="#eaeaea" stroke-width="0.6"/>
<line x1="357.61" y1="130.5" x2="357.61" y2="20.8" stroke="#eaeaea" stroke-width="0.6"/>
<line x1="398.7" y1="113" x2="528.3" y2="135.2" stroke="#eaeaea" stroke-width="0.6"/>
<line x1="398.7" y1="113" x2="398.7" y2="3.3" stroke="#eaeaea" stroke-width="0.6"/>
<line x1="315.8" y1="148.3" x2="398.7" y2="113" stroke="#eaeaea" stroke-width="0.6"/>
<line x1="398.7" y1="113" x2="528.3" y2="135.2" stroke="#eaeaea" stroke-width="0.6"/>
<line x1="315.8" y1="120.88" x2="398.7" y2="85.58" stroke="#eaeaea" stroke-width="0.6"/>
<line x1="398.7" y1="85.58" x2="528.3" y2="107.78" stroke="#eaeaea" stroke-width="0.6"/>
<line x1="315.8" y1="93.45" x2="398.7" y2="58.15" stroke="#eaeaea" stroke-width="0.6"/>
<line x1="398.7" y1="58.15" x2="528.3" y2="80.35" stroke="#eaeaea" stroke-width="0.6"/>
<line x1="315.8" y1="66.03" x2="398.7" y2="30.73" stroke="#eaeaea" stroke-width="0.6"/>
<line x1="398.7" y1="30.73" x2="528.3" y2="52.93" stroke="#eaeaea" stroke-width="0.6"/>
<line x1="315.8" y1="38.6" x2="398.7" y2="3.3" stroke="#eaeaea" stroke-width="0.6"/>
<line x1="398.7" y1="3.3" x2="528.3" y2="25.5" stroke="#eaeaea" stroke-width="0.6"/>
<line x1="315.8" y1="148.3" x2="315.8" y2="38.6" stroke="#a0a0a0" stroke-width="0.9"/>
<line x1="315.8" y1="148.3" x2="447.4" y2="171" stroke="#a0a0a0" stroke-width="0.9"/>
<line x1="447.4" y1="171" x2="528.3" y2="135.2" stroke="#a0a0a0" stroke-width="0.9"/>
<line x1="315.8" y1="148.3" x2="313.4" y2="147.3" stroke="#a0a0a0" stroke-width="0.9"/>
<line x1="315.8" y1="120.88" x2="313.4" y2="119.88" stroke="#a0a0a0" stroke-width="0.9"/>
<line x1="315.8" y1="93.45" x2="313.4" y2="92.45" stroke="#a0a0a0" stroke-width="0.9"/>
<line x1="315.8" y1="66.03" x2="313.4" y2="65.03" stroke="#a0a0a0" stroke-width="0.9"/>
<line x1="315.8" y1="38.6" x2="313.4" y2="37.6" stroke="#a0a0a0" stroke-width="0.9"/>
<line x1="315.8" y1="148.3" x2="313.42" y2="149.35" stroke="#a0a0a0" stroke-width="0.9"/>
<line x1="348.62" y1="153.96" x2="346.24" y2="155.01" stroke="#a0a0a0" stroke-width="0.9"/>
<line x1="381.5" y1="159.63" x2="379.12" y2="160.68" stroke="#a0a0a0" stroke-width="0.9"/>
<line x1="414.42" y1="165.31" x2="412.04" y2="166.36" stroke="#a0a0a0" stroke-width="0.9"/>
<line x1="447.4" y1="171" x2="445.02" y2="172.05" stroke="#a0a0a0" stroke-width="0.9"/>
<line x1="447.4" y1="171" x2="449.96" y2="171.44" stroke="#a0a0a0" stroke-width="0.9"/>
<line x1="488.2" y1="152.95" x2="490.76" y2="153.39" stroke="#a0a0a0" stroke-width="0.9"/>
<line x1="528.3" y1="135.2" x2="530.86" y2="135.64" stroke="#a0a0a0" stroke-width="0.9"/>
<polygon points="390.54,40.46 397.01,41.57 405.16,29.36 398.7,28.26" fill="#f9fb15" stroke="#f9fb15" stroke-width="0.3"/>
<polygon points="397.01,41.57 403.48,42.68 411.62,30.47 405.16,29.36" fill="#f9fb15" stroke="#f9fb15" stroke-width="0.3"/>
<polygon points="403.48,42.68 409.96,43.79 418.09,31.58 411.62,30.47" fill="#f9fb15" stroke="#f9fb15" stroke-width="0.3"/>
<polygon points="409.96,43.79 416.43,44.9 424.56,32.69 418.09,31.58" fill="#f9fb15" stroke="#f9fb15" stroke-width="0.3"/>
<polygon points="382.35,52.67 388.83,53.78 397.01,41.57 390.54,40.46" fill="#fad52e" stroke="#fad52e" stroke-width="0.3"/>
<polygon points="416.43,44.9 422.91,46.01 431.02,33.79 424.56,32.69" fill="#f9fb15" stroke="#f9fb15" stroke-width="0.3"/>
<polygon points="388.83,53.78 395.31,54.9 403.48,42.68 397.01,41.57" fill="#fad52e" stroke="#fad52e" stroke-width="0.3"/>
<polygon points="422.91,46.01 429.39,47.12 437.5,34.9 431.02,33.79" fill="#f9fb15" stroke="#f9fb15" stroke-width="0.3"/>
<polygon points="395.31,54.9 401.8,56.01 409.96,43.79 403.48,42.68" fill="#fad52e" stroke="#fad52e" stroke-width="0.3"/>
<polygon points="429.39,47.12 435.87,48.23 443.97,36.01 437.5,34.9" fill="#f9fb15" stroke="#f9fb15" stroke-width="0.3"/>
<polygon points="401.8,56.01 408.28,57.12 416.43,44.9 409.96,43.79" fill="#fad52e" stroke="#fad52e" stroke-width="0.3"/>
<polygon points="374.13,64.9 380.62,66.01 388.83,53.78 382.35,52.67" fill="#eaba30" stroke="#eaba30" stroke-width="0.3"/>
<polygon points="435.87,48.23 442.36,49.34 450.44,37.12 443.97,36.01" fill="#f9fb15" stroke="#f9fb15" stroke-width="0.3"/>
<polygon points="408.28,57.12 414.77,58.23 422.91,46.01 416.43,44.9" fill="#fad52e" stroke="#fad52e" stroke-width="0.3"/>
<polygon points="380.62,66.01 387.11,67.13 395.31,54.9 388.83,53.78" fill="#eaba30" stroke="#eaba30" stroke-width="0.3"/>
<polygon points="442.36,49.34 448.85,50.45 456.92,38.23 450.44,37.12" fill="#f9fb15" stroke="#f9fb15" stroke-width="0.3"/>
<polygon points="414.77,58.23 421.26,59.35 429.39,47.12 422.91,46.01" fill="#fad52e" stroke="#fad52e" stroke-width="0.3"/>
<polygon points="387.11,67.13 393.61,68.24 401.8,56.01 395.31,54.9" fill="#eaba30" stroke="#eaba30" stroke-width="0.3"/>
<polygon points="448.85,50.45 455.34,51.57 463.4,39.34 456.92,38.23" fill="#f9fb15" stroke="#f9fb15" stroke-width="0.3"/>
<polygon points="421.26,59.35 427.75,60.46 435.87,48.23 429.39,47.12" fill="#fad52e" stroke="#fad52e" stroke-width="0.3"/>
<polygon points="393.61,68.24 400.1,69.36 408.28,57.12 401.8,56.01" fill="#eaba30" stroke="#eaba30" stroke-width="0.3"/>
<polygon points="365.88,77.14 372.38,78.25 380.62,66.01 374.13,64.9" fill="#a1c840" stroke="#a1c840" stroke-width="0.3"/>
<polygon points="455.34,51.57 461.83,52.68 469.88,40.45 463.4,39.34" fill="#f9fb15" stroke="#f9fb15" stroke-width="0.3"/>
<polygon points="427.75,60.46 434.25,61.58 442.36,49.34 435.87,48.23" fill="#fad52e" stroke="#fad52e" stroke-width="0.3"/>
<polygon points="400.1,69.36 406.6,70.47 414.77,58.23 408.28,57.12" fill="#eaba30" stroke="#eaba30" stroke-width="0.3"/>
<polygon points="372.38,78.25 378.89,79.37 387.11,67.13 380.62,66.01" fill="#a1c840" stroke="#a1c840" stroke-width="0.3"/>
<polygon points="461.83,52.68 468.32,53.79 476.36,41.56 469.88,40.45" fill="#f9fb15" stroke="#f9fb15" stroke-width="0.3"/>
<polygon points="434.25,61.58 440.74,62.69 448.85,50.45 442.36,49.34" fill="#fad52e" stroke="#fad52e" stroke-width="0.3"/>
<polygon points="406.6,70.47 413.1,71.59 421.26,59.35 414.77,58.23" fill="#eaba30" stroke="#eaba30" stroke-width="0.3"/>
<polygon points="378.89,79.37 385.39,80.49 393.61,68.24 387.11,67.13" fill="#a1c840" stroke="#a1c840" stroke-width="0.3"/>
<polygon points="468.32,53.79 474.81,54.9 482.85,42.67 476.36,41.56" fill="#f9fb15" stroke="#f9fb15" stroke-width="0.3"/>
<polygon points="440.74,62.69 447.24,63.8 455.34,51.57 448.85,50.45" fill="#fad52e" stroke="#fad52e" stroke-width="0.3"/>
<polygon points="413.1,71.59 419.6,72.7 427.75,60.46 421.26,59.35" fill="#eaba30" stroke="#eaba30" stroke-width="0.3"/>
<polygon points="385.39,80.49 391.9,81.61 400.1,69.36 393.61,68.24" fill="#a1c840" stroke="#a1c840" stroke-width="0.3"/>
<polygon points="357.61,89.39 364.12,90.51 372.38,78.25 365.88,77.14" fill="#48cb86" stroke="#48cb86" stroke-width="0.3"/>
<polygon points="474.81,54.9 481.31,56.02 489.34,43.78 482.85,42.67" fill="#f9fb15" stroke="#f9fb15" stroke-width="0.3"/>
<polygon points="447.24,63.8 453.74,64.92 461.83,52.68 455.34,51.57" fill="#fad52e" stroke="#fad52e" stroke-width="0.3"/>
<polygon points="419.6,72.7 426.11,73.82 434.25,61.58 427.75,60.46" fill="#eaba30" stroke="#eaba30" stroke-width="0.3"/>
<polygon points="391.9,81.61 398.4,82.72 406.6,70.47 400.1,69.36" fill="#a1c840" stroke="#a1c840" stroke-width="0.3"/>
<polygon points="364.12,90.51 370.63,91.63 378.89,79.37 372.38,78.25" fill="#48cb86" stroke="#48cb86" stroke-width="0.3"/>
<polygon points="481.31,56.02 487.81,57.13 495.82,44.89 489.34,43.78" fill="#f9fb15" stroke="#f9fb15" stroke-width="0.3"/>
<polygon points="453.74,64.92 460.25,66.04 468.32,53.79 461.83,52.68" fill="#fad52e" stroke="#fad52e" stroke-width="0.3"/>
<polygon points="426.11,73.82 432.62,74.94 440.74,62.69 434.25,61.58" fill="#eaba30" stroke="#eaba30" stroke-width="0.3"/>
<polygon points="398.4,82.72 404.91,83.84 413.1,71.59 406.6,70.47" fill="#a1c840" stroke="#a1c840" stroke-width="0.3"/>
<polygon points="370.63,91.63 377.14,92.75 385.39,80.49 378.89,79.37" fill="#48cb86" stroke="#48cb86" stroke-width="0.3"/>
<polygon points="487.81,57.13 494.31,58.25 502.32,46.01 495.82,44.89" fill="#f9fb15" stroke="#f9fb15" stroke-width="0.3"/>
<polygon points="460.25,66.04 466.75,67.15 474.81,54.9 468.32,53.79" fill="#fad52e" stroke="#fad52e" stroke-width="0.3"/>
<polygon points="432.62,74.94 439.12,76.06 447.24,63.8 440.74,62.69" fill="#eaba30" stroke="#eaba30" stroke-width="0.3"/>
<polygon points="404.91,83.84 411.43,84.96 419.6,72.7 413.1,71.59" fill="#a1c840" stroke="#a1c840" stroke-width="0.3"/>
<polygon points="377.14,92.75 383.66,93.87 391.9,81.61 385.39,80.49" fill="#48cb86" stroke="#48cb86" stroke-width="0.3"/>
<polygon points="349.3,101.65 355.82,102.77 364.12,90.51 357.61,89.39" fill="#14beb8" stroke="#14beb8" stroke-width="0.3"/>
<polygon points="494.31,58.25 500.81,59.36 508.81,47.12 502.32,46.01" fill="#f9fb15" stroke="#f9fb15" stroke-width="0.3"/>
<polygon points="466.75,67.15 473.26,68.27 481.31,56.02 474.81,54.9" fill="#fad52e" stroke="#fad52e" stroke-width="0.3"/>
<polygon points="439.12,76.06 445.63,77.17 453.74,64.92 447.24,63.8" fill="#eaba30" stroke="#eaba30" stroke-width="0.3"/>
<polygon points="411.43,84.96 417.94,86.08 426.11,73.82 419.6,72.7" fill="#a1c840" stroke="#a1c840" stroke-width="0.3"/>
<polygon points="383.66,93.87 390.18,94.99 398.4,82.72 391.9,81.61" fill="#48cb86" stroke="#48cb86" stroke-width="0.3"/>
<polygon points="355.82,102.77 362.35,103.89 370.63,91.63 364.12,90.51" fill="#14beb8" stroke="#14beb8" stroke-width="0.3"/>
<polygon points="500.81,59.36 507.32,60.48 515.3,48.23 508.81,47.12" fill="#f9fb15" stroke="#f9fb15" stroke-width="0.3"/>
<polygon points="473.26,68.27 479.77,69.38 487.81,57.13 481.31,56.02" fill="#fad52e" stroke="#fad52e" stroke-width="0.3"/>
<polygon points="445.63,77.17 452.15,78.29 460.25,66.04 453.74,64.92" fill="#eaba30" stroke="#eaba30" stroke-width="0.3"/>
<polygon points="417.94,86.08 424.46,87.2 432.62,74.94 426.11,73.82" fill="#a1c840" stroke="#a1c840" stroke-width="0.3"/>
<polygon points="390.18,94.99 396.7,96.11 404.91,83.84 398.4,82.72" fill="#48cb86" stroke="#48cb86" stroke-width="0.3"/>
<polygon points="362.35,103.89 368.87,105.02 377.14,92.75 370.63,91.63" fill="#14beb8" stroke="#14beb8" stroke-width="0.3"/>
<polygon points="507.32,60.48 513.83,61.59 521.8,49.34 515.3,48.23" fill="#f9fb15" stroke="#f9fb15" stroke-width="0.3"/>
<polygon points="479.77,69.38 486.28,70.5 494.31,58.25 487.81,57.13" fill="#fad52e" stroke="#fad52e" stroke-width="0.3"/>
<polygon points="452.15,78.29 458.66,79.41 466.75,67.15 460.25,66.04" fill="#eaba30" stroke="#eaba30" stroke-width="0.3"/>
<polygon points="424.46,87.2 430.98,88.32 439.12,76.06 432.62,74.94" fill="#a1c840" stroke="#a1c840" stroke-width="0.3"/>
<polygon points="396.7,96.11 403.22,97.23 411.43,84.96 404.91,83.84" fill="#48cb86" stroke="#48cb86" stroke-width="0.3"/>
<polygon points="368.87,105.02 375.4,106.14 383.66,93.87 377.14,92.75" fill="#14beb8" stroke="#14beb8" stroke-width="0.3"/>
<polygon points="340.97,113.92 347.5,115.05 355.82,102.77 349.3,101.65" fill="#1caadf" stroke="#1caadf" stroke-width="0.3"/>
<polygon points="513.83,61.59 520.34,62.71 528.3,50.46 521.8,49.34" fill="#f9fb15" stroke="#f9fb15" stroke-width="0.3"/>
<polygon points="486.28,70.5 492.79,71.62 500.81,59.36 494.31,58.25" fill="#fad52e" stroke="#fad52e" stroke-width="0.3"/>
<polygon points="458.66,79.41 465.18,80.53 473.26,68.27 466.75,67.15" fill="#eaba30" stroke="#eaba30" stroke-width="0.3"/>
<polygon points="430.98,88.32 437.5,89.44 445.63,77.17 439.12,76.06" fill="#a1c840" stroke="#a1c840" stroke-width="0.3"/>
<polygon points="403.22,97.23 409.75,98.35 417.94,86.08 411.43,84.96" fill="#48cb86" stroke="#48cb86" stroke-width="0.3"/>
<polygon points="375.4,106.14 381.92,107.26 390.18,94.99 383.66,93.87" fill="#14beb8" stroke="#14beb8" stroke-width="0.3"/>
<polygon points="347.5,115.05 354.03,116.17 362.35,103.89 355.82,102.77" fill="#1caadf" stroke="#1caadf" stroke-width="0.3"/>
<polygon points="492.79,71.62 499.31,72.74 507.32,60.48 500.81,59.36" fill="#fad52e" stroke="#fad52e" stroke-width="0.3"/>
<polygon points="465.18,80.53 471.7,81.65 479.77,69.38 473.26,68.27" fill="#eaba30" stroke="#eaba30" stroke-width="0.3"/>
<polygon points="437.5,89.44 444.02,90.56 452.15,78.29 445.63,77.17" fill="#a1c840" stroke="#a1c840" stroke-width="0.3"/>
<polygon points="409.75,98.35 416.27,99.47 424.46,87.2 417.94,86.08" fill="#48cb86" stroke="#48cb86" stroke-width="0.3"/>
<polygon points="381.92,107.26 388.46,108.38 396.7,96.11 390.18,94.99" fill="#14beb8" stroke="#14beb8" stroke-width="0.3"/>
<polygon points="354.03,116.17 360.57,117.3 368.87,105.02 362.35,103.89" fill="#1caadf" stroke="#1caadf" stroke-width="0.3"/>
<polygon points="499.31,72.74 505.82,73.85 513.83,61.59 507.32,60.48" fill="#fad52e" stroke="#fad52e" stroke-width="0.3"/>
<polygon points="471.7,81.65 478.22,82.77 486.28,70.5 479.77,69.38" fill="#eaba30" stroke="#eaba30" stroke-width="0.3"/>
<polygon points="444.02,90.56 450.54,91.68 458.66,79.41 452.15,78.29" fill="#a1c840" stroke="#a1c840" stroke-width="0.3"/>
<polygon points="416.27,99.47 422.8,100.59 430.98,88.32 424.46,87.2" fill="#48cb86" stroke="#48cb86" stroke-width="0.3"/>
<polygon points="388.46,108.38 394.99,109.51 403.22,97.23 396.7,96.11" fill="#14beb8" stroke="#14beb8" stroke-width="0.3"/>
<polygon points="360.57,117.3 367.1,118.42 375.4,106.14 368.87,105.02" fill="#1caadf" stroke="#1caadf" stroke-width="0.3"/>
<polygon points="332.61,126.21 339.15,127.34 347.5,115.05 340.97,113.92" fill="#2d8bf4" stroke="#2d8bf4" stroke-width="0.3"/>
<polygon points="505.82,73.85 512.34,74.97 520.34,62.71 513.83,61.59" fill="#fad52e" stroke="#fad52e" stroke-width="0.3"/>
<polygon points="478.22,82.77 484.74,83.89 492.79,71.62 486.28,70.5" fill="#eaba30" stroke="#eaba30" stroke-width="0.3"/>
<polygon points="450.54,91.68 457.07,92.8 465.18,80.53 458.66,79.41" fill="#a1c840" stroke="#a1c840" stroke-width="0.3"/>
<polygon points="422.8,100.59 429.33,101.72 437.5,89.44 430.98,88.32" fill="#48cb86" stroke="#48cb86" stroke-width="0.3"/>
<polygon points="394.99,109.51 401.52,110.63 409.75,98.35 403.22,97.23" fill="#14beb8" stroke="#14beb8" stroke-width="0.3"/>
<polygon points="367.1,118.42 373.64,119.55 381.92,107.26 375.4,106.14" fill="#1caadf" stroke="#1caadf" stroke-width="0.3"/>
<polygon points="339.15,127.34 345.69,128.47 354.03,116.17 347.5,115.05" fill="#2d8bf4" stroke="#2d8bf4" stroke-width="0.3"/>
<polygon points="484.74,83.89 491.27,85.01 499.31,72.74 492.79,71.62" fill="#eaba30" stroke="#eaba30" stroke-width="0.3"/>
<polygon points="457.07,92.8 463.6,93.92 471.7,81.65 465.18,80.53" fill="#a1c840" stroke="#a1c840" stroke-width="0.3"/>
<polygon points="429.33,101.72 435.86,102.84 444.02,90.56 437.5,89.44" fill="#48cb86" stroke="#48cb86" stroke-width="0.3"/>
<polygon points="401.52,110.63 408.06,111.76 416.27,99.47 409.75,98.35" fill="#14beb8" stroke="#14beb8" stroke-width="0.3"/>
<polygon points="373.64,119.55 380.18,120.67 388.46,108.38 381.92,107.26" fill="#1caadf" stroke="#1caadf" stroke-width="0.3"/>
<polygon points="345.69,128.47 352.24,129.59 360.57,117.3 354.03,116.17" fill="#2d8bf4" stroke="#2d8bf4" stroke-width="0.3"/>
<polygon points="491.27,85.01 497.79,86.13 505.82,73.85 499.31,72.74" fill="#eaba30" stroke="#eaba30" stroke-width="0.3"/>
<polygon points="463.6,93.92 470.13,95.04 478.22,82.77 471.7,81.65" fill="#a1c840" stroke="#a1c840" stroke-width="0.3"/>
<polygon points="435.86,102.84 442.4,103.96 450.54,91.68 444.02,90.56" fill="#48cb86" stroke="#48cb86" stroke-width="0.3"/>
<polygon points="408.06,111.76 414.6,112.88 422.8,100.59 416.27,99.47" fill="#14beb8" stroke="#14beb8" stroke-width="0.3"/>
<polygon points="380.18,120.67 386.73,121.8 394.99,109.51 388.46,108.38" fill="#1caadf" stroke="#1caadf" stroke-width="0.3"/>
<polygon points="352.24,129.59 358.78,130.72 367.1,118.42 360.57,117.3" fill="#2d8bf4" stroke="#2d8bf4" stroke-width="0.3"/>
<polygon points="497.79,86.13 504.32,87.25 512.34,74.97 505.82,73.85" fill="#eaba30" stroke="#eaba30" stroke-width="0.3"/>
<polygon points="324.22,138.51 330.77,139.64 339.15,127.34 332.61,126.21" fill="#4367fd" stroke="#4367fd" stroke-width="0.3"/>
<polygon points="470.13,95.04 476.66,96.17 484.74,83.89 478.22,82.77" fill="#a1c840" stroke="#a1c840" stroke-width="0.3"/>
<polygon points="442.4,103.96 448.94,105.09 457.07,92.8 450.54,91.68" fill="#48cb86" stroke="#48cb86" stroke-width="0.3"/>
<polygon points="414.6,112.88 421.14,114.01 429.33,101.72 422.8,100.59" fill="#14beb8" stroke="#14beb8" stroke-width="0.3"/>
<polygon points="386.73,121.8 393.27,122.93 401.52,110.63 394.99,109.51" fill="#1caadf" stroke="#1caadf" stroke-width="0.3"/>
<polygon points="358.78,130.72 365.33,131.85 373.64,119.55 367.1,118.42" fill="#2d8bf4" stroke="#2d8bf4" stroke-width="0.3"/>
<polygon points="330.77,139.64 337.32,140.77 345.69,128.47 339.15,127.34" fill="#4367fd" stroke="#4367fd" stroke-width="0.3"/>
<polygon points="476.66,96.17 483.2,97.29 491.27,85.01 484.74,83.89" fill="#a1c840" stroke="#a1c840" stroke-width="0.3"/>
<polygon points="448.94,105.09 455.47,106.21 463.6,93.92 457.07,92.8" fill="#48cb86" stroke="#48cb86" stroke-width="0.3"/>
<polygon points="421.14,114.01 427.68,115.13 435.86,102.84 429.33,101.72" fill="#14beb8" stroke="#14beb8" stroke-width="0.3"/>
<polygon points="393.27,122.93 399.82,124.05 408.06,111.76 401.52,110.63" fill="#1caadf" stroke="#1caadf" stroke-width="0.3"/>
<polygon points="365.33,131.85 371.88,132.98 380.18,120.67 373.64,119.55" fill="#2d8bf4" stroke="#2d8bf4" stroke-width="0.3"/>
<polygon points="337.32,140.77 343.88,141.9 352.24,129.59 345.69,128.47" fill="#4367fd" stroke="#4367fd" stroke-width="0.3"/>
<polygon points="483.2,97.29 489.74,98.41 497.79,86.13 491.27,85.01" fill="#a1c840" stroke="#a1c840" stroke-width="0.3"/>
<polygon points="455.47,106.21 462.02,107.33 470.13,95.04 463.6,93.92" fill="#48cb86" stroke="#48cb86" stroke-width="0.3"/>
<polygon points="427.68,115.13 434.23,116.26 442.4,103.96 435.86,102.84" fill="#14beb8" stroke="#14beb8" stroke-width="0.3"/>
<polygon points="399.82,124.05 406.36,125.18 414.6,112.88 408.06,111.76" fill="#1caadf" stroke="#1caadf" stroke-width="0.3"/>
<polygon points="371.88,132.98 378.43,134.1 386.73,121.8 380.18,120.67" fill="#2d8bf4" stroke="#2d8bf4" stroke-width="0.3"/>
<polygon points="343.88,141.9 350.43,143.03 358.78,130.72 352.24,129.59" fill="#4367fd" stroke="#4367fd" stroke-width="0.3"/>
<polygon points="489.74,98.41 496.28,99.53 504.32,87.25 497.79,86.13" fill="#a1c840" stroke="#a1c840" stroke-width="0.3"/>
<polygon points="324.79,148.39 330.77,139.64 324.22,138.51 318.24,147.26" fill="#4742e6" stroke="#4742e6" stroke-width="0.3"/>
<polygon points="462.02,107.33 468.56,108.46 476.66,96.17 470.13,95.04" fill="#48cb86" stroke="#48cb86" stroke-width="0.3"/>
<polygon points="434.23,116.26 440.77,117.38 448.94,105.09 442.4,103.96" fill="#14beb8" stroke="#14beb8" stroke-width="0.3"/>
<polygon points="406.36,125.18 412.92,126.31 421.14,114.01 414.6,112.88" fill="#1caadf" stroke="#1caadf" stroke-width="0.3"/>
<polygon points="378.43,134.1 384.99,135.23 393.27,122.93 386.73,121.8" fill="#2d8bf4" stroke="#2d8bf4" stroke-width="0.3"/>
<polygon points="350.43,143.03 356.99,144.16 365.33,131.85 358.78,130.72" fill="#4367fd" stroke="#4367fd" stroke-width="0.3"/>
<polygon points="331.35,149.52 337.32,140.77 330.77,139.64 324.79,148.39" fill="#4742e6" stroke="#4742e6" stroke-width="0.3"/>
<polygon points="468.56,108.46 475.1,109.58 483.2,97.29 476.66,96.17" fill="#48cb86" stroke="#48cb86" stroke-width="0.3"/>
<polygon points="440.77,117.38 447.32,118.51 455.47,106.21 448.94,105.09" fill="#14beb8" stroke="#14beb8" stroke-width="0.3"/>
<polygon points="412.92,126.31 419.47,127.44 427.68,115.13 421.14,114.01" fill="#1caadf" stroke="#1caadf" stroke-width="0.3"/>
<polygon points="384.99,135.23 391.55,136.36 399.82,124.05 393.27,122.93" fill="#2d8bf4" stroke="#2d8bf4" stroke-width="0.3"/>
<polygon points="356.99,144.16 363.55,145.29 371.88,132.98 365.33,131.85" fill="#4367fd" stroke="#4367fd" stroke-width="0.3"/>
<polygon points="337.92,150.66 343.88,141.9 337.32,140.77 331.35,149.52" fill="#4742e6" stroke="#4742e6" stroke-width="0.3"/>
<polygon points="475.1,109.58 481.65,110.71 489.74,98.41 483.2,97.29" fill="#48cb86" stroke="#48cb86" stroke-width="0.3"/>
<polygon points="447.32,118.51 453.87,119.64 462.02,107.33 455.47,106.21" fill="#14beb8" stroke="#14beb8" stroke-width="0.3"/>
<polygon points="419.47,127.44 426.02,128.56 434.23,116.26 427.68,115.13" fill="#1caadf" stroke="#1caadf" stroke-width="0.3"/>
<polygon points="391.55,136.36 398.1,137.49 406.36,125.18 399.82,124.05" fill="#2d8bf4" stroke="#2d8bf4" stroke-width="0.3"/>
<polygon points="363.55,145.29 370.11,146.42 378.43,134.1 371.88,132.98" fill="#4367fd" stroke="#4367fd" stroke-width="0.3"/>
<polygon points="344.48,151.79 350.43,143.03 343.88,141.9 337.92,150.66" fill="#4742e6" stroke="#4742e6" stroke-width="0.3"/>
<polygon points="481.65,110.71 488.2,111.83 496.28,99.53 489.74,98.41" fill="#48cb86" stroke="#48cb86" stroke-width="0.3"/>
<polygon points="453.87,119.64 460.43,120.76 468.56,108.46 462.02,107.33" fill="#14beb8" stroke="#14beb8" stroke-width="0.3"/>
<polygon points="426.02,128.56 432.58,129.69 440.77,117.38 434.23,116.26" fill="#1caadf" stroke="#1caadf" stroke-width="0.3"/>
<polygon points="398.1,137.49 404.66,138.62 412.92,126.31 406.36,125.18" fill="#2d8bf4" stroke="#2d8bf4" stroke-width="0.3"/>
<polygon points="370.11,146.42 376.68,147.55 384.99,135.23 378.43,134.1" fill="#4367fd" stroke="#4367fd" stroke-width="0.3"/>
<polygon points="351.04,152.92 356.99,144.16 350.43,143.03 344.48,151.79" fill="#4742e6" stroke="#4742e6" stroke-width="0.3"/>
<polygon points="460.43,120.76 466.98,121.89 475.1,109.58 468.56,108.46" fill="#14beb8" stroke="#14beb8" stroke-width="0.3"/>
<polygon points="432.58,129.69 439.14,130.82 447.32,118.51 440.77,117.38" fill="#1caadf" stroke="#1caadf" stroke-width="0.3"/>
<polygon points="404.66,138.62 411.23,139.75 419.47,127.44 412.92,126.31" fill="#2d8bf4" stroke="#2d8bf4" stroke-width="0.3"/>
<polygon points="376.68,147.55 383.25,148.69 391.55,136.36 384.99,135.23" fill="#4367fd" stroke="#4367fd" stroke-width="0.3"/>
<polygon points="357.61,154.05 363.55,145.29 356.99,144.16 351.04,152.92" fill="#4742e6" stroke="#4742e6" stroke-width="0.3"/>
<polygon points="466.98,121.89 473.54,123.02 481.65,110.71 475.1,109.58" fill="#14beb8" stroke="#14beb8" stroke-width="0.3"/>
<polygon points="439.14,130.82 445.7,131.95 453.87,119.64 447.32,118.51" fill="#1caadf" stroke="#1caadf" stroke-width="0.3"/>
<polygon points="411.23,139.75 417.79,140.88 426.02,128.56 419.47,127.44" fill="#2d8bf4" stroke="#2d8bf4" stroke-width="0.3"/>
<polygon points="383.25,148.69 389.81,149.82 398.1,137.49 391.55,136.36" fill="#4367fd" stroke="#4367fd" stroke-width="0.3"/>
<polygon points="364.18,155.19 370.11,146.42 363.55,145.29 357.61,154.05" fill="#4742e6" stroke="#4742e6" stroke-width="0.3"/>
<polygon points="473.54,123.02 480.1,124.15 488.2,111.83 481.65,110.71" fill="#14beb8" stroke="#14beb8" stroke-width="0.3"/>
<polygon points="445.7,131.95 452.26,133.08 460.43,120.76 453.87,119.64" fill="#1caadf" stroke="#1caadf" stroke-width="0.3"/>
<polygon points="417.79,140.88 424.36,142.02 432.58,129.69 426.02,128.56" fill="#2d8bf4" stroke="#2d8bf4" stroke-width="0.3"/>
<polygon points="389.81,149.82 396.39,150.95 404.66,138.62 398.1,137.49" fill="#4367fd" stroke="#4367fd" stroke-width="0.3"/>
<polygon points="370.75,156.32 376.68,147.55 370.11,146.42 364.18,155.19" fill="#4742e6" stroke="#4742e6" stroke-width="0.3"/>
<polygon points="452.26,133.08 458.83,134.21 466.98,121.89 460.43,120.76" fill="#1caadf" stroke="#1caadf" stroke-width="0.3"/>
<polygon points="424.36,142.02 430.93,143.15 439.14,130.82 432.58,129.69" fill="#2d8bf4" stroke="#2d8bf4" stroke-width="0.3"/>
<polygon points="396.39,150.95 402.96,152.08 411.23,139.75 404.66,138.62" fill="#4367fd" stroke="#4367fd" stroke-width="0.3"/>
<polygon points="377.33,157.45 383.25,148.69 376.68,147.55 370.75,156.32" fill="#4742e6" stroke="#4742e6" stroke-width="0.3"/>
<polygon points="458.83,134.21 465.4,135.34 473.54,123.02 466.98,121.89" fill="#1caadf" stroke="#1caadf" stroke-width="0.3"/>
<polygon points="430.93,143.15 437.5,144.28 445.7,131.95 439.14,130.82" fill="#2d8bf4" stroke="#2d8bf4" stroke-width="0.3"/>
<polygon points="402.96,152.08 409.53,153.22 417.79,140.88 411.23,139.75" fill="#4367fd" stroke="#4367fd" stroke-width="0.3"/>
<polygon points="383.9,158.59 389.81,149.82 383.25,148.69 377.33,157.45" fill="#4742e6" stroke="#4742e6" stroke-width="0.3"/>
<polygon points="465.4,135.34 471.97,136.47 480.1,124.15 473.54,123.02" fill="#1caadf" stroke="#1caadf" stroke-width="0.3"/>
<polygon points="437.5,144.28 444.07,145.41 452.26,133.08 445.7,131.95" fill="#2d8bf4" stroke="#2d8bf4" stroke-width="0.3"/>
<polygon points="409.53,153.22 416.11,154.35 424.36,142.02 417.79,140.88" fill="#4367fd" stroke="#4367fd" stroke-width="0.3"/>
<polygon points="390.48,159.72 396.39,150.95 389.81,149.82 383.9,158.59" fill="#4742e6" stroke="#4742e6" stroke-width="0.3"/>
<polygon points="444.07,145.41 450.65,146.54 458.83,134.21 452.26,133.08" fill="#2d8bf4" stroke="#2d8bf4" stroke-width="0.3"/>
<polygon points="416.11,154.35 422.69,155.48 430.93,143.15 424.36,142.02" fill="#4367fd" stroke="#4367fd" stroke-width="0.3"/>
<polygon points="397.06,160.86 402.96,152.08 396.39,150.95 390.48,159.72" fill="#4742e6" stroke="#4742e6" stroke-width="0.3"/>
<polygon points="450.65,146.54 457.23,147.68 465.4,135.34 458.83,134.21" fill="#2d8bf4" stroke="#2d8bf4" stroke-width="0.3"/>
<polygon points="422.69,155.48 429.27,156.62 437.5,144.28 430.93,143.15" fill="#4367fd" stroke="#4367fd" stroke-width="0.3"/>
<polygon points="403.64,161.99 409.53,153.22 402.96,152.08 397.06,160.86" fill="#4742e6" stroke="#4742e6" stroke-width="0.3"/>
<polygon points="457.23,147.68 463.81,148.81 471.97,136.47 465.4,135.34" fill="#2d8bf4" stroke="#2d8bf4" stroke-width="0.3"/>
<polygon points="429.27,156.62 435.85,157.75 444.07,145.41 437.5,144.28" fill="#4367fd" stroke="#4367fd" stroke-width="0.3"/>
<polygon points="410.23,163.13 416.11,154.35 409.53,153.22 403.64,161.99" fill="#4742e6" stroke="#4742e6" stroke-width="0.3"/>
<polygon points="435.85,157.75 442.44,158.89 450.65,146.54 444.07,145.41" fill="#4367fd" stroke="#4367fd" stroke-width="0.3"/>
<polygon points="416.82,164.26 422.69,155.48 416.11,154.35 410.23,163.13" fill="#4742e6" stroke="#4742e6" stroke-width="0.3"/>
<polygon points="442.44,158.89 449.03,160.02 457.23,147.68 450.65,146.54" fill="#4367fd" stroke="#4367fd" stroke-width="0.3"/>
<polygon points="423.4,165.4 429.27,156.62 422.69,155.48 416.82,164.26" fill="#4742e6" stroke="#4742e6" stroke-width="0.3"/>
<polygon points="449.03,160.02 455.62,161.16 463.81,148.81 457.23,147.68" fill="#4367fd" stroke="#4367fd" stroke-width="0.3"/>
<polygon points="429.99,166.54 435.85,157.75 429.27,156.62 423.4,165.4" fill="#4742e6" stroke="#4742e6" stroke-width="0.3"/>
<polygon points="436.59,167.67 442.44,158.89 435.85,157.75 429.99,166.54" fill="#4742e6" stroke="#4742e6" stroke-width="0.3"/>
<polygon points="443.18,168.81 449.03,160.02 442.44,158.89 436.59,167.67" fill="#4742e6" stroke="#4742e6" stroke-width="0.3"/>
<polygon points="449.78,169.95 455.62,161.16 449.03,160.02 443.18,168.81" fill="#4742e6" stroke="#4742e6" stroke-width="0.3"/>
<path d="M318.24 147.26L324.22 138.51L332.61 126.21L340.97 113.92L349.3 101.65L357.61 89.39L365.88 77.14L374.13 64.9L382.35 52.67L390.54 40.46L398.7 28.26M324.79 148.39L330.77 139.64L339.15 127.34L347.5 115.05L355.82 102.77L364.12 90.51L372.38 78.25L380.62 66.01L388.83 53.78L397.01 41.57L405.16 29.36M331.35 149.52L337.32 140.77L345.69 128.47L354.03 116.17L362.35 103.89L370.63 91.63L378.89 79.37L387.11 67.13L395.31 54.9L403.48 42.68L411.62 30.47M337.92 150.66L343.88 141.9L352.24 129.59L360.57 117.3L368.87 105.02L377.14 92.75L385.39 80.49L393.61 68.24L401.8 56.01L409.96 43.79L418.09 31.58M344.48 151.79L350.43 143.03L358.78 130.72L367.1 118.42L375.4 106.14L383.66 93.87L391.9 81.61L400.1 69.36L408.28 57.12L416.43 44.9L424.56 32.69M351.04 152.92L356.99 144.16L365.33 131.85L373.64 119.55L381.92 107.26L390.18 94.99L398.4 82.72L406.6 70.47L414.77 58.23L422.91 46.01L431.02 33.79M357.61 154.05L363.55 145.29L371.88 132.98L380.18 120.67L388.46 108.38L396.7 96.11L404.91 83.84L413.1 71.59L421.26 59.35L429.39 47.12L437.5 34.9M364.18 155.19L370.11 146.42L378.43 134.1L386.73 121.8L394.99 109.51L403.22 97.23L411.43 84.96L419.6 72.7L427.75 60.46L435.87 48.23L443.97 36.01M370.75 156.32L376.68 147.55L384.99 135.23L393.27 122.93L401.52 110.63L409.75 98.35L417.94 86.08L426.11 73.82L434.25 61.58L442.36 49.34L450.44 37.12M377.33 157.45L383.25 148.69L391.55 136.36L399.82 124.05L408.06 111.76L416.27 99.47L424.46 87.2L432.62 74.94L440.74 62.69L448.85 50.45L456.92 38.23M383.9 158.59L389.81 149.82L398.1 137.49L406.36 125.18L414.6 112.88L422.8 100.59L430.98 88.32L439.12 76.06L447.24 63.8L455.34 51.57L463.4 39.34M390.48 159.72L396.39 150.95L404.66 138.62L412.92 126.31L421.14 114.01L429.33 101.72L437.5 89.44L445.63 77.17L453.74 64.92L461.83 52.68L469.88 40.45M397.06 160.86L402.96 152.08L411.23 139.75L419.47 127.44L427.68 115.13L435.86 102.84L444.02 90.56L452.15 78.29L460.25 66.04L468.32 53.79L476.36 41.56M403.64 161.99L409.53 153.22L417.79 140.88L426.02 128.56L434.23 116.26L442.4 103.96L450.54 91.68L458.66 79.41L466.75 67.15L474.81 54.9L482.85 42.67M410.23 163.13L416.11 154.35L424.36 142.02L432.58 129.69L440.77 117.38L448.94 105.09L457.07 92.8L465.18 80.53L473.26 68.27L481.31 56.02L489.34 43.78M416.82 164.26L422.69 155.48L430.93 143.15L439.14 130.82L447.32 118.51L455.47 106.21L463.6 93.92L471.7 81.65L479.77 69.38L487.81 57.13L495.82 44.89M423.4 165.4L429.27 156.62L437.5 144.28L445.7 131.95L453.87 119.64L462.02 107.33L470.13 95.04L478.22 82.77L486.28 70.5L494.31 58.25L502.32 46.01M429.99 166.54L435.85 157.75L444.07 145.41L452.26 133.08L460.43 120.76L468.56 108.46L476.66 96.17L484.74 83.89L492.79 71.62L500.81 59.36L508.81 47.12M436.59 167.67L442.44 158.89L450.65 146.54L458.83 134.21L466.98 121.89L475.1 109.58L483.2 97.29L491.27 85.01L499.31 72.74L507.32 60.48L515.3 48.23M443.18 168.81L449.03 160.02L457.23 147.68L465.4 135.34L473.54 123.02L481.65 110.71L489.74 98.41L497.79 86.13L505.82 73.85L513.83 61.59L521.8 49.34M449.78 169.95L455.62 161.16L463.81 148.81L471.97 136.47L480.1 124.15L488.2 111.83L496.28 99.53L504.32 87.25L512.34 74.97L520.34 62.71L528.3 50.46M324.22 138.51L330.77 139.64L337.32 140.77L343.88 141.9L350.43 143.03L356.99 144.16L363.55 145.29L370.11 146.42L376.68 147.55L383.25 148.69L389.81 149.82L396.39 150.95L402.96 152.08L409.53 153.22L416.11 154.35L422.69 155.48L429.27 156.62L435.85 157.75L442.44 158.89L449.03 160.02L455.62 161.16M332.61 126.21L339.15 127.34L345.69 128.47L352.24 129.59L358.78 130.72L365.33 131.85L371.88 132.98L378.43 134.1L384.99 135.23L391.55 136.36L398.1 137.49L404.66 138.62L411.23 139.75L417.79 140.88L424.36 142.02L430.93 143.15L437.5 144.28L444.07 145.41L450.65 146.54L457.23 147.68L463.81 148.81M340.97 113.92L347.5 115.05L354.03 116.17L360.57 117.3L367.1 118.42L373.64 119.55L380.18 120.67L386.73 121.8L393.27 122.93L399.82 124.05L406.36 125.18L412.92 126.31L419.47 127.44L426.02 128.56L432.58 129.69L439.14 130.82L445.7 131.95L452.26 133.08L458.83 134.21L465.4 135.34L471.97 136.47M349.3 101.65L355.82 102.77L362.35 103.89L368.87 105.02L375.4 106.14L381.92 107.26L388.46 108.38L394.99 109.51L401.52 110.63L408.06 111.76L414.6 112.88L421.14 114.01L427.68 115.13L434.23 116.26L440.77 117.38L447.32 118.51L453.87 119.64L460.43 120.76L466.98 121.89L473.54 123.02L480.1 124.15M357.61 89.39L364.12 90.51L370.63 91.63L377.14 92.75L383.66 93.87L390.18 94.99L396.7 96.11L403.22 97.23L409.75 98.35L416.27 99.47L422.8 100.59L429.33 101.72L435.86 102.84L442.4 103.96L448.94 105.09L455.47 106.21L462.02 107.33L468.56 108.46L475.1 109.58L481.65 110.71L488.2 111.83M365.88 77.14L372.38 78.25L378.89 79.37L385.39 80.49L391.9 81.61L398.4 82.72L404.91 83.84L411.43 84.96L417.94 86.08L424.46 87.2L430.98 88.32L437.5 89.44L444.02 90.56L450.54 91.68L457.07 92.8L463.6 93.92L470.13 95.04L476.66 96.17L483.2 97.29L489.74 98.41L496.28 99.53M374.13 64.9L380.62 66.01L387.11 67.13L393.61 68.24L400.1 69.36L406.6 70.47L413.1 71.59L419.6 72.7L426.11 73.82L432.62 74.94L439.12 76.06L445.63 77.17L452.15 78.29L458.66 79.41L465.18 80.53L471.7 81.65L478.22 82.77L484.74 83.89L491.27 85.01L497.79 86.13L504.32 87.25M382.35 52.67L388.83 53.78L395.31 54.9L401.8 56.01L408.28 57.12L414.77 58.23L421.26 59.35L427.75 60.46L434.25 61.58L440.74 62.69L447.24 63.8L453.74 64.92L460.25 66.04L466.75 67.15L473.26 68.27L479.77 69.38L486.28 70.5L492.79 71.62L499.31 72.74L505.82 73.85L512.34 74.97M390.54 40.46L397.01 41.57L403.48 42.68L409.96 43.79L416.43 44.9L422.91 46.01L429.39 47.12L435.87 48.23L442.36 49.34L448.85 50.45L455.34 51.57L461.83 52.68L468.32 53.79L474.81 54.9L481.31 56.02L487.81 57.13L494.31 58.25L500.81 59.36L507.32 60.48L513.83 61.59L520.34 62.71M398.7 28.26L405.16 29.36L411.62 30.47L418.09 31.58L424.56 32.69L431.02 33.79L437.5 34.9L443.97 36.01L450.44 37.12L456.92 38.23L463.4 39.34L469.88 40.45L476.36 41.56L482.85 42.67L489.34 43.78L495.82 44.89L502.32 46.01L508.81 47.12L515.3 48.23L521.8 49.34L528.3 50.46" fill="none" stroke="#000" stroke-width="0.65" stroke-opacity="0.85" stroke-linejoin="round"/>
<text transform="translate(309.5,151.51) scale(1.0,1.08)" font-size="8.5" text-anchor="end">-1.9</text>
<text transform="translate(309.5,124.09) scale(1.0,1.08)" font-size="8.5" text-anchor="end">-1.8</text>
<text transform="translate(309.5,96.66) scale(1.0,1.08)" font-size="8.5" text-anchor="end">-1.7</text>
<text transform="translate(309.5,69.24) scale(1.0,1.08)" font-size="8.5" text-anchor="end">-1.6</text>
<text transform="translate(309.5,41.81) scale(1.0,1.08)" font-size="8.5" text-anchor="end">-1.5</text>
<text transform="translate(305,160.21) scale(1.0,1.08)" font-size="8.5" text-anchor="middle">60</text>
<text transform="translate(337,165.11) scale(1.0,1.08)" font-size="8.5" text-anchor="middle">50</text>
<text transform="translate(369.3,171.21) scale(1.0,1.08)" font-size="8.5" text-anchor="middle">40</text>
<text transform="translate(402.2,177.11) scale(1.0,1.08)" font-size="8.5" text-anchor="middle">30</text>
<text transform="translate(435,182.61) scale(1.0,1.08)" font-size="8.5" text-anchor="middle">20</text>
<text transform="translate(457.3,180.51) scale(1.0,1.08)" font-size="8.5" text-anchor="middle">0.6</text>
<text transform="translate(501.4,163.61) scale(1.0,1.08)" font-size="8.5" text-anchor="middle">0.55</text>
<text transform="translate(540.6,145.01) scale(1.0,1.08)" font-size="8.5" text-anchor="middle">0.5</text>
<text transform="translate(355.2,186.2) scale(1.0,1.1)" font-size="9.4" text-anchor="middle">Contact angle (deg)</text>
<text transform="translate(507,188.6) scale(1.0,1.1)" font-size="9.4" text-anchor="middle">Conformity factor</text>
<text x="0" y="0" font-size="9.4" text-anchor="middle" transform="translate(291,92.85) rotate(-90) scale(1.0,1.1)">Second principal curvature radius (mm)</text>
<line x1="40.5" y1="386.4" x2="115.1" y2="347" stroke="#eaeaea" stroke-width="0.6"/>
<line x1="115.1" y1="347" x2="115.1" y2="244.3" stroke="#eaeaea" stroke-width="0.6"/>
<line x1="74.26" y1="391.92" x2="148.81" y2="352.64" stroke="#eaeaea" stroke-width="0.6"/>
<line x1="148.81" y1="352.64" x2="148.81" y2="249.94" stroke="#eaeaea" stroke-width="0.6"/>
<line x1="107.85" y1="397.41" x2="182.35" y2="358.26" stroke="#eaeaea" stroke-width="0.6"/>
<line x1="182.35" y1="358.26" x2="182.35" y2="255.56" stroke="#eaeaea" stroke-width="0.6"/>
<line x1="141.26" y1="402.87" x2="215.71" y2="363.84" stroke="#eaeaea" stroke-width="0.6"/>
<line x1="215.71" y1="363.84" x2="215.71" y2="261.14" stroke="#eaeaea" stroke-width="0.6"/>
<line x1="174.5" y1="408.3" x2="248.9" y2="369.4" stroke="#eaeaea" stroke-width="0.6"/>
<line x1="248.9" y1="369.4" x2="248.9" y2="266.7" stroke="#eaeaea" stroke-width="0.6"/>
<line x1="40.5" y1="386.4" x2="174.5" y2="408.3" stroke="#eaeaea" stroke-width="0.6"/>
<line x1="40.5" y1="386.4" x2="40.5" y2="283.7" stroke="#eaeaea" stroke-width="0.6"/>
<line x1="77.72" y1="366.74" x2="211.62" y2="388.89" stroke="#eaeaea" stroke-width="0.6"/>
<line x1="77.72" y1="366.74" x2="77.72" y2="264.04" stroke="#eaeaea" stroke-width="0.6"/>
<line x1="115.1" y1="347" x2="248.9" y2="369.4" stroke="#eaeaea" stroke-width="0.6"/>
<line x1="115.1" y1="347" x2="115.1" y2="244.3" stroke="#eaeaea" stroke-width="0.6"/>
<line x1="40.5" y1="386.4" x2="115.1" y2="347" stroke="#eaeaea" stroke-width="0.6"/>
<line x1="115.1" y1="347" x2="248.9" y2="369.4" stroke="#eaeaea" stroke-width="0.6"/>
<line x1="40.5" y1="360.72" x2="115.1" y2="321.32" stroke="#eaeaea" stroke-width="0.6"/>
<line x1="115.1" y1="321.32" x2="248.9" y2="343.72" stroke="#eaeaea" stroke-width="0.6"/>
<line x1="40.5" y1="335.05" x2="115.1" y2="295.65" stroke="#eaeaea" stroke-width="0.6"/>
<line x1="115.1" y1="295.65" x2="248.9" y2="318.05" stroke="#eaeaea" stroke-width="0.6"/>
<line x1="40.5" y1="309.38" x2="115.1" y2="269.98" stroke="#eaeaea" stroke-width="0.6"/>
<line x1="115.1" y1="269.98" x2="248.9" y2="292.38" stroke="#eaeaea" stroke-width="0.6"/>
<line x1="40.5" y1="283.7" x2="115.1" y2="244.3" stroke="#eaeaea" stroke-width="0.6"/>
<line x1="115.1" y1="244.3" x2="248.9" y2="266.7" stroke="#eaeaea" stroke-width="0.6"/>
<line x1="40.5" y1="386.4" x2="40.5" y2="283.7" stroke="#a0a0a0" stroke-width="0.9"/>
<line x1="40.5" y1="386.4" x2="174.5" y2="408.3" stroke="#a0a0a0" stroke-width="0.9"/>
<line x1="174.5" y1="408.3" x2="248.9" y2="369.4" stroke="#a0a0a0" stroke-width="0.9"/>
<line x1="40.5" y1="386.4" x2="38.1" y2="385.4" stroke="#a0a0a0" stroke-width="0.9"/>
<line x1="40.5" y1="360.72" x2="38.1" y2="359.72" stroke="#a0a0a0" stroke-width="0.9"/>
<line x1="40.5" y1="335.05" x2="38.1" y2="334.05" stroke="#a0a0a0" stroke-width="0.9"/>
<line x1="40.5" y1="309.38" x2="38.1" y2="308.38" stroke="#a0a0a0" stroke-width="0.9"/>
<line x1="40.5" y1="283.7" x2="38.1" y2="282.7" stroke="#a0a0a0" stroke-width="0.9"/>
<line x1="40.5" y1="386.4" x2="38.2" y2="387.6" stroke="#a0a0a0" stroke-width="0.9"/>
<line x1="74.26" y1="391.92" x2="71.96" y2="393.12" stroke="#a0a0a0" stroke-width="0.9"/>
<line x1="107.85" y1="397.41" x2="105.54" y2="398.61" stroke="#a0a0a0" stroke-width="0.9"/>
<line x1="141.26" y1="402.87" x2="138.95" y2="404.07" stroke="#a0a0a0" stroke-width="0.9"/>
<line x1="174.5" y1="408.3" x2="172.2" y2="409.5" stroke="#a0a0a0" stroke-width="0.9"/>
<line x1="174.5" y1="408.3" x2="177.07" y2="408.72" stroke="#a0a0a0" stroke-width="0.9"/>
<line x1="211.62" y1="388.89" x2="214.19" y2="389.31" stroke="#a0a0a0" stroke-width="0.9"/>
<line x1="248.9" y1="369.4" x2="251.47" y2="369.82" stroke="#a0a0a0" stroke-width="0.9"/>
<polygon points="107.61,252.11 114.37,254.58 121.86,250.72 115.1,248.25" fill="#f8f818" stroke="#f8f818" stroke-width="0.3"/>
<polygon points="114.37,254.58 121.12,257.21 128.61,253.35 121.86,250.72" fill="#f7f41c" stroke="#f7f41c" stroke-width="0.3"/>
<polygon points="121.12,257.21 127.86,260.04 135.35,256.18 128.61,253.35" fill="#f5ee21" stroke="#f5ee21" stroke-width="0.3"/>
<polygon points="127.86,260.04 134.6,263.06 142.08,259.2 135.35,256.18" fill="#f5e626" stroke="#f5e626" stroke-width="0.3"/>
<polygon points="100.13,255.97 106.89,258.43 114.37,254.58 107.61,252.11" fill="#f9f916" stroke="#f9f916" stroke-width="0.3"/>
<polygon points="134.6,263.06 141.33,266.31 148.81,262.44 142.08,259.2" fill="#f6e028" stroke="#f6e028" stroke-width="0.3"/>
<polygon points="106.89,258.43 113.64,261.07 121.12,257.21 114.37,254.58" fill="#f7f41c" stroke="#f7f41c" stroke-width="0.3"/>
<polygon points="141.33,266.31 148.05,269.79 155.53,265.93 148.81,262.44" fill="#f9d62d" stroke="#f9d62d" stroke-width="0.3"/>
<polygon points="113.64,261.07 120.38,263.9 127.86,260.04 121.12,257.21" fill="#f5ee21" stroke="#f5ee21" stroke-width="0.3"/>
<polygon points="148.05,269.79 154.76,273.54 162.25,269.68 155.53,265.93" fill="#fdcd31" stroke="#fdcd31" stroke-width="0.3"/>
<polygon points="120.38,263.9 127.12,266.92 134.6,263.06 127.86,260.04" fill="#f5e825" stroke="#f5e825" stroke-width="0.3"/>
<polygon points="154.76,273.54 161.47,277.59 168.95,273.72 162.25,269.68" fill="#fec239" stroke="#fec239" stroke-width="0.3"/>
<polygon points="92.65,259.82 99.41,262.29 106.89,258.43 100.13,255.97" fill="#f9f916" stroke="#f9f916" stroke-width="0.3"/>
<polygon points="127.12,266.92 133.85,270.16 141.33,266.31 134.6,263.06" fill="#f6e028" stroke="#f6e028" stroke-width="0.3"/>
<polygon points="161.47,277.59 168.17,281.96 175.65,278.1 168.95,273.72" fill="#f9ba3e" stroke="#f9ba3e" stroke-width="0.3"/>
<polygon points="99.41,262.29 106.16,264.93 113.64,261.07 106.89,258.43" fill="#f7f41c" stroke="#f7f41c" stroke-width="0.3"/>
<polygon points="133.85,270.16 140.57,273.65 148.05,269.79 141.33,266.31" fill="#f9d62d" stroke="#f9d62d" stroke-width="0.3"/>
<polygon points="168.17,281.96 174.87,286.71 182.35,282.84 175.65,278.1" fill="#e6bb2d" stroke="#e6bb2d" stroke-width="0.3"/>
<polygon points="106.16,264.93 112.91,267.75 120.38,263.9 113.64,261.07" fill="#f5ee21" stroke="#f5ee21" stroke-width="0.3"/>
<polygon points="140.57,273.65 147.29,277.4 154.76,273.54 148.05,269.79" fill="#fdcd31" stroke="#fdcd31" stroke-width="0.3"/>
<polygon points="174.87,286.71 181.56,291.76 189.03,287.88 182.35,282.84" fill="#cec027" stroke="#cec027" stroke-width="0.3"/>
<polygon points="112.91,267.75 119.65,270.77 127.12,266.92 120.38,263.9" fill="#f5e825" stroke="#f5e825" stroke-width="0.3"/>
<polygon points="147.29,277.4 154,281.45 161.47,277.59 154.76,273.54" fill="#fec239" stroke="#fec239" stroke-width="0.3"/>
<polygon points="85.18,263.67 91.94,266.14 99.41,262.29 92.65,259.82" fill="#f9f916" stroke="#f9f916" stroke-width="0.3"/>
<polygon points="181.56,291.76 188.24,297.29 195.71,293.4 189.03,287.88" fill="#abc739" stroke="#abc739" stroke-width="0.3"/>
<polygon points="119.65,270.77 126.38,274.02 133.85,270.16 127.12,266.92" fill="#f6e028" stroke="#f6e028" stroke-width="0.3"/>
<polygon points="154,281.45 160.7,285.82 168.17,281.96 161.47,277.59" fill="#f9ba3e" stroke="#f9ba3e" stroke-width="0.3"/>
<polygon points="91.94,266.14 98.7,268.78 106.16,264.93 99.41,262.29" fill="#f7f51b" stroke="#f7f51b" stroke-width="0.3"/>
<polygon points="188.24,297.29 194.91,303.37 202.39,299.46 195.71,293.4" fill="#84cc56" stroke="#84cc56" stroke-width="0.3"/>
<polygon points="126.38,274.02 133.1,277.51 140.57,273.65 133.85,270.16" fill="#f9d62d" stroke="#f9d62d" stroke-width="0.3"/>
<polygon points="160.7,285.82 167.4,290.57 174.87,286.71 168.17,281.96" fill="#e6bb2d" stroke="#e6bb2d" stroke-width="0.3"/>
<polygon points="98.7,268.78 105.44,271.6 112.91,267.75 106.16,264.93" fill="#f6ef20" stroke="#f6ef20" stroke-width="0.3"/>
<polygon points="194.91,303.37 201.58,310.07 209.05,306.15 202.39,299.46" fill="#57cc7a" stroke="#57cc7a" stroke-width="0.3"/>
<polygon points="133.1,277.51 139.82,281.26 147.29,277.4 140.57,273.65" fill="#fdcd31" stroke="#fdcd31" stroke-width="0.3"/>
<polygon points="167.4,290.57 174.08,295.64 181.56,291.76 174.87,286.71" fill="#cec027" stroke="#cec027" stroke-width="0.3"/>
<polygon points="105.44,271.6 112.18,274.63 119.65,270.77 112.91,267.75" fill="#f5e825" stroke="#f5e825" stroke-width="0.3"/>
<polygon points="201.58,310.07 208.24,317.04 215.71,313.06 209.05,306.15" fill="#35c79b" stroke="#35c79b" stroke-width="0.3"/>
<polygon points="139.82,281.26 146.53,285.3 154,281.45 147.29,277.4" fill="#fec239" stroke="#fec239" stroke-width="0.3"/>
<polygon points="77.72,267.51 84.48,269.98 91.94,266.14 85.18,263.67" fill="#f9f916" stroke="#f9f916" stroke-width="0.3"/>
<polygon points="174.08,295.64 180.77,301.18 188.24,297.29 181.56,291.76" fill="#aec637" stroke="#aec637" stroke-width="0.3"/>
<polygon points="112.18,274.63 118.91,277.87 126.38,274.02 119.65,270.77" fill="#f6e028" stroke="#f6e028" stroke-width="0.3"/>
<polygon points="208.24,317.04 214.89,324.8 222.36,320.74 215.71,313.06" fill="#14beb8" stroke="#14beb8" stroke-width="0.3"/>
<polygon points="146.53,285.3 153.23,289.68 160.7,285.82 154,281.45" fill="#f9ba3e" stroke="#f9ba3e" stroke-width="0.3"/>
<polygon points="84.48,269.98 91.24,272.62 98.7,268.78 91.94,266.14" fill="#f7f51b" stroke="#f7f51b" stroke-width="0.3"/>
<polygon points="180.77,301.18 187.44,307.27 194.91,303.37 188.24,297.29" fill="#84cc56" stroke="#84cc56" stroke-width="0.3"/>
<polygon points="118.91,277.87 125.64,281.36 133.1,277.51 126.38,274.02" fill="#f9d82c" stroke="#f9d82c" stroke-width="0.3"/>
<polygon points="214.89,324.8 221.53,333.49 229.01,329.35 222.36,320.74" fill="#0eb3d4" stroke="#0eb3d4" stroke-width="0.3"/>
<polygon points="153.23,289.68 159.93,294.43 167.4,290.57 160.7,285.82" fill="#e6bb2d" stroke="#e6bb2d" stroke-width="0.3"/>
<polygon points="91.24,272.62 97.98,275.45 105.44,271.6 98.7,268.78" fill="#f6ef20" stroke="#f6ef20" stroke-width="0.3"/>
<polygon points="187.44,307.27 194.11,313.99 201.58,310.07 194.91,303.37" fill="#57cc7a" stroke="#57cc7a" stroke-width="0.3"/>
<polygon points="125.64,281.36 132.36,285.11 139.82,281.26 133.1,277.51" fill="#fdce31" stroke="#fdce31" stroke-width="0.3"/>
<polygon points="221.53,333.49 228.17,343.78 235.64,339.6 229.01,329.35" fill="#249fe5" stroke="#249fe5" stroke-width="0.3"/>
<polygon points="159.93,294.43 166.62,299.51 174.08,295.64 167.4,290.57" fill="#cec027" stroke="#cec027" stroke-width="0.3"/>
<polygon points="97.98,275.45 104.72,278.47 112.18,274.63 105.44,271.6" fill="#f5e825" stroke="#f5e825" stroke-width="0.3"/>
<polygon points="194.11,313.99 200.77,321.03 208.24,317.04 201.58,310.07" fill="#35c79b" stroke="#35c79b" stroke-width="0.3"/>
<polygon points="132.36,285.11 139.07,289.16 146.53,285.3 139.82,281.26" fill="#fec438" stroke="#fec438" stroke-width="0.3"/>
<polygon points="70.26,271.35 77.03,273.82 84.48,269.98 77.72,267.51" fill="#f9fb15" stroke="#f9fb15" stroke-width="0.3"/>
<polygon points="228.17,343.78 234.81,355.58 242.28,351.36 235.64,339.6" fill="#2f80fa" stroke="#2f80fa" stroke-width="0.3"/>
<polygon points="166.62,299.51 173.3,305.07 180.77,301.18 174.08,295.64" fill="#aec637" stroke="#aec637" stroke-width="0.3"/>
<polygon points="104.72,278.47 111.46,281.72 118.91,277.87 112.18,274.63" fill="#f6e028" stroke="#f6e028" stroke-width="0.3"/>
<polygon points="200.77,321.03 207.42,328.85 214.89,324.8 208.24,317.04" fill="#14beb8" stroke="#14beb8" stroke-width="0.3"/>
<polygon points="139.07,289.16 145.77,293.54 153.23,289.68 146.53,285.3" fill="#f9ba3e" stroke="#f9ba3e" stroke-width="0.3"/>
<polygon points="77.03,273.82 83.78,276.47 91.24,272.62 84.48,269.98" fill="#f7f51b" stroke="#f7f51b" stroke-width="0.3"/>
<polygon points="234.81,355.58 241.43,369.2 248.9,364.95 242.28,351.36" fill="#4757f7" stroke="#4757f7" stroke-width="0.3"/>
<polygon points="173.3,305.07 179.98,311.17 187.44,307.27 180.77,301.18" fill="#84cc56" stroke="#84cc56" stroke-width="0.3"/>
<polygon points="111.46,281.72 118.18,285.21 125.64,281.36 118.91,277.87" fill="#f9d82c" stroke="#f9d82c" stroke-width="0.3"/>
<polygon points="207.42,328.85 214.07,337.63 221.53,333.49 214.89,324.8" fill="#0eb3d4" stroke="#0eb3d4" stroke-width="0.3"/>
<polygon points="145.77,293.54 152.47,298.29 159.93,294.43 153.23,289.68" fill="#e8bb2e" stroke="#e8bb2e" stroke-width="0.3"/>
<polygon points="83.78,276.47 90.53,279.29 97.98,275.45 91.24,272.62" fill="#f6ef20" stroke="#f6ef20" stroke-width="0.3"/>
<polygon points="179.98,311.17 186.65,317.9 194.11,313.99 187.44,307.27" fill="#57cc7a" stroke="#57cc7a" stroke-width="0.3"/>
<polygon points="118.18,285.21 124.9,288.96 132.36,285.11 125.64,281.36" fill="#fdce31" stroke="#fdce31" stroke-width="0.3"/>
<polygon points="214.07,337.63 220.71,347.96 228.17,343.78 221.53,333.49" fill="#249ee6" stroke="#249ee6" stroke-width="0.3"/>
<polygon points="152.47,298.29 159.16,303.38 166.62,299.51 159.93,294.43" fill="#cec027" stroke="#cec027" stroke-width="0.3"/>
<polygon points="90.53,279.29 97.27,282.32 104.72,278.47 97.98,275.45" fill="#f5e924" stroke="#f5e924" stroke-width="0.3"/>
<polygon points="186.65,317.9 193.31,325.01 200.77,321.03 194.11,313.99" fill="#35c79b" stroke="#35c79b" stroke-width="0.3"/>
<polygon points="124.9,288.96 131.61,293.01 139.07,289.16 132.36,285.11" fill="#fec438" stroke="#fec438" stroke-width="0.3"/>
<polygon points="62.81,275.19 69.58,277.66 77.03,273.82 70.26,271.35" fill="#f9fb15" stroke="#f9fb15" stroke-width="0.3"/>
<polygon points="220.71,347.96 227.34,359.79 234.81,355.58 228.17,343.78" fill="#307ffb" stroke="#307ffb" stroke-width="0.3"/>
<polygon points="159.16,303.38 165.84,308.95 173.3,305.07 166.62,299.51" fill="#aec637" stroke="#aec637" stroke-width="0.3"/>
<polygon points="97.27,282.32 104,285.57 111.46,281.72 104.72,278.47" fill="#f5e128" stroke="#f5e128" stroke-width="0.3"/>
<polygon points="193.31,325.01 199.96,332.91 207.42,328.85 200.77,321.03" fill="#14beb8" stroke="#14beb8" stroke-width="0.3"/>
<polygon points="131.61,293.01 138.32,297.39 145.77,293.54 139.07,289.16" fill="#f9ba3e" stroke="#f9ba3e" stroke-width="0.3"/>
<polygon points="69.58,277.66 76.33,280.31 83.78,276.47 77.03,273.82" fill="#f7f51b" stroke="#f7f51b" stroke-width="0.3"/>
<polygon points="227.34,359.79 233.97,373.45 241.43,369.2 234.81,355.58" fill="#4756f7" stroke="#4756f7" stroke-width="0.3"/>
<polygon points="165.84,308.95 172.52,315.07 179.98,311.17 173.3,305.07" fill="#84cc56" stroke="#84cc56" stroke-width="0.3"/>
<polygon points="104,285.57 110.73,289.05 118.18,285.21 111.46,281.72" fill="#f9d82c" stroke="#f9d82c" stroke-width="0.3"/>
<polygon points="199.96,332.91 206.61,341.77 214.07,337.63 207.42,328.85" fill="#10b2d5" stroke="#10b2d5" stroke-width="0.3"/>
<polygon points="138.32,297.39 145.02,302.14 152.47,298.29 145.77,293.54" fill="#e8bb2e" stroke="#e8bb2e" stroke-width="0.3"/>
<polygon points="76.33,280.31 83.08,283.13 90.53,279.29 83.78,276.47" fill="#f6ef20" stroke="#f6ef20" stroke-width="0.3"/>
<polygon points="172.52,315.07 179.19,321.81 186.65,317.9 179.98,311.17" fill="#57cc7a" stroke="#57cc7a" stroke-width="0.3"/>
<polygon points="110.73,289.05 117.45,292.81 124.9,288.96 118.18,285.21" fill="#fdce31" stroke="#fdce31" stroke-width="0.3"/>
<polygon points="206.61,341.77 213.25,352.14 220.71,347.96 214.07,337.63" fill="#259ce7" stroke="#259ce7" stroke-width="0.3"/>
<polygon points="145.02,302.14 151.71,307.24 159.16,303.38 152.47,298.29" fill="#cec027" stroke="#cec027" stroke-width="0.3"/>
<polygon points="83.08,283.13 89.82,286.16 97.27,282.32 90.53,279.29" fill="#f5e924" stroke="#f5e924" stroke-width="0.3"/>
<polygon points="179.19,321.81 185.85,328.98 193.31,325.01 186.65,317.9" fill="#35c79b" stroke="#35c79b" stroke-width="0.3"/>
<polygon points="117.45,292.81 124.16,296.86 131.61,293.01 124.9,288.96" fill="#fec438" stroke="#fec438" stroke-width="0.3"/>
<polygon points="55.37,279.03 62.13,281.5 69.58,277.66 62.81,275.19" fill="#f9fb15" stroke="#f9fb15" stroke-width="0.3"/>
<polygon points="213.25,352.14 219.89,364.01 227.34,359.79 220.71,347.96" fill="#317dfc" stroke="#317dfc" stroke-width="0.3"/>
<polygon points="151.71,307.24 158.39,312.83 165.84,308.95 159.16,303.38" fill="#aec637" stroke="#aec637" stroke-width="0.3"/>
<polygon points="89.82,286.16 96.56,289.41 104,285.57 97.27,282.32" fill="#f5e128" stroke="#f5e128" stroke-width="0.3"/>
<polygon points="185.85,328.98 192.51,336.96 199.96,332.91 193.31,325.01" fill="#14beb8" stroke="#14beb8" stroke-width="0.3"/>
<polygon points="124.16,296.86 130.87,301.24 138.32,297.39 131.61,293.01" fill="#f9ba3e" stroke="#f9ba3e" stroke-width="0.3"/>
<polygon points="62.13,281.5 68.89,284.14 76.33,280.31 69.58,277.66" fill="#f7f51b" stroke="#f7f51b" stroke-width="0.3"/>
<polygon points="219.89,364.01 226.51,377.69 233.97,373.45 227.34,359.79" fill="#4854f6" stroke="#4854f6" stroke-width="0.3"/>
<polygon points="158.39,312.83 165.07,318.96 172.52,315.07 165.84,308.95" fill="#84cc56" stroke="#84cc56" stroke-width="0.3"/>
<polygon points="96.56,289.41 103.29,292.9 110.73,289.05 104,285.57" fill="#f9d82c" stroke="#f9d82c" stroke-width="0.3"/>
<polygon points="192.51,336.96 199.16,345.9 206.61,341.77 199.96,332.91" fill="#10b2d5" stroke="#10b2d5" stroke-width="0.3"/>
<polygon points="130.87,301.24 137.57,305.99 145.02,302.14 138.32,297.39" fill="#e8bb2e" stroke="#e8bb2e" stroke-width="0.3"/>
<polygon points="68.89,284.14 75.64,286.97 83.08,283.13 76.33,280.31" fill="#f6ef20" stroke="#f6ef20" stroke-width="0.3"/>
<polygon points="165.07,318.96 171.74,325.72 179.19,321.81 172.52,315.07" fill="#57cc7a" stroke="#57cc7a" stroke-width="0.3"/>
<polygon points="103.29,292.9 110.01,296.65 117.45,292.81 110.73,289.05" fill="#fdce31" stroke="#fdce31" stroke-width="0.3"/>
<polygon points="199.16,345.9 205.8,356.31 213.25,352.14 206.61,341.77" fill="#259ce7" stroke="#259ce7" stroke-width="0.3"/>
<polygon points="137.57,305.99 144.26,311.11 151.71,307.24 145.02,302.14" fill="#cec027" stroke="#cec027" stroke-width="0.3"/>
<polygon points="75.64,286.97 82.38,290 89.82,286.16 83.08,283.13" fill="#f5e924" stroke="#f5e924" stroke-width="0.3"/>
<polygon points="171.74,325.72 178.41,332.95 185.85,328.98 179.19,321.81" fill="#35c79b" stroke="#35c79b" stroke-width="0.3"/>
<polygon points="110.01,296.65 116.72,300.7 124.16,296.86 117.45,292.81" fill="#fec438" stroke="#fec438" stroke-width="0.3"/>
<polygon points="47.93,282.86 54.7,285.33 62.13,281.5 55.37,279.03" fill="#f9fb15" stroke="#f9fb15" stroke-width="0.3"/>
<polygon points="205.8,356.31 212.44,368.22 219.89,364.01 213.25,352.14" fill="#317dfc" stroke="#317dfc" stroke-width="0.3"/>
<polygon points="144.26,311.11 150.95,316.7 158.39,312.83 151.71,307.24" fill="#aec637" stroke="#aec637" stroke-width="0.3"/>
<polygon points="82.38,290 89.12,293.25 96.56,289.41 89.82,286.16" fill="#f5e128" stroke="#f5e128" stroke-width="0.3"/>
<polygon points="178.41,332.95 185.06,341.01 192.51,336.96 185.85,328.98" fill="#14beb8" stroke="#14beb8" stroke-width="0.3"/>
<polygon points="116.72,300.7 123.43,305.08 130.87,301.24 124.16,296.86" fill="#fbbb3e" stroke="#fbbb3e" stroke-width="0.3"/>
<polygon points="54.7,285.33 61.45,287.98 68.89,284.14 62.13,281.5" fill="#f8f71a" stroke="#f8f71a" stroke-width="0.3"/>
<polygon points="212.44,368.22 219.06,381.93 226.51,377.69 219.89,364.01" fill="#4854f6" stroke="#4854f6" stroke-width="0.3"/>
<polygon points="150.95,316.7 157.63,322.85 165.07,318.96 158.39,312.83" fill="#84cc56" stroke="#84cc56" stroke-width="0.3"/>
<polygon points="89.12,293.25 95.85,296.74 103.29,292.9 96.56,289.41" fill="#f8d92b" stroke="#f8d92b" stroke-width="0.3"/>
<polygon points="185.06,341.01 191.71,350.03 199.16,345.9 192.51,336.96" fill="#10b2d5" stroke="#10b2d5" stroke-width="0.3"/>
<polygon points="123.43,305.08 130.13,309.83 137.57,305.99 130.87,301.24" fill="#e8bb2e" stroke="#e8bb2e" stroke-width="0.3"/>
<polygon points="61.45,287.98 68.21,290.8 75.64,286.97 68.89,284.14" fill="#f6f11f" stroke="#f6f11f" stroke-width="0.3"/>
<polygon points="157.63,322.85 164.3,329.62 171.74,325.72 165.07,318.96" fill="#57cc7a" stroke="#57cc7a" stroke-width="0.3"/>
<polygon points="95.85,296.74 102.57,300.49 110.01,296.65 103.29,292.9" fill="#fdce31" stroke="#fdce31" stroke-width="0.3"/>
<polygon points="191.71,350.03 198.36,360.48 205.8,356.31 199.16,345.9" fill="#259be8" stroke="#259be8" stroke-width="0.3"/>
<polygon points="130.13,309.83 136.82,314.97 144.26,311.11 137.57,305.99" fill="#d0bf27" stroke="#d0bf27" stroke-width="0.3"/>
<polygon points="68.21,290.8 74.95,293.83 82.38,290 75.64,286.97" fill="#f5e924" stroke="#f5e924" stroke-width="0.3"/>
<polygon points="164.3,329.62 170.96,336.92 178.41,332.95 171.74,325.72" fill="#35c79b" stroke="#35c79b" stroke-width="0.3"/>
<polygon points="102.57,300.49 109.29,304.54 116.72,300.7 110.01,296.65" fill="#fec438" stroke="#fec438" stroke-width="0.3"/>
<polygon points="40.5,286.69 47.27,289.16 54.7,285.33 47.93,282.86" fill="#f9fb15" stroke="#f9fb15" stroke-width="0.3"/>
<polygon points="198.36,360.48 204.99,372.42 212.44,368.22 205.8,356.31" fill="#327cfc" stroke="#327cfc" stroke-width="0.3"/>
<polygon points="136.82,314.97 143.51,320.58 150.95,316.7 144.26,311.11" fill="#aec637" stroke="#aec637" stroke-width="0.3"/>
<polygon points="74.95,293.83 81.69,297.08 89.12,293.25 82.38,290" fill="#f5e128" stroke="#f5e128" stroke-width="0.3"/>
<polygon points="170.96,336.92 177.62,345.05 185.06,341.01 178.41,332.95" fill="#14beb8" stroke="#14beb8" stroke-width="0.3"/>
<polygon points="109.29,304.54 115.99,308.92 123.43,305.08 116.72,300.7" fill="#fbbb3e" stroke="#fbbb3e" stroke-width="0.3"/>
<polygon points="47.27,289.16 54.03,291.81 61.45,287.98 54.7,285.33" fill="#f8f71a" stroke="#f8f71a" stroke-width="0.3"/>
<polygon points="204.99,372.42 211.62,386.17 219.06,381.93 212.44,368.22" fill="#4853f5" stroke="#4853f5" stroke-width="0.3"/>
<polygon points="143.51,320.58 150.19,326.73 157.63,322.85 150.95,316.7" fill="#88cb53" stroke="#88cb53" stroke-width="0.3"/>
<polygon points="81.69,297.08 88.42,300.57 95.85,296.74 89.12,293.25" fill="#f8d92b" stroke="#f8d92b" stroke-width="0.3"/>
<polygon points="177.62,345.05 184.27,354.16 191.71,350.03 185.06,341.01" fill="#12b1d6" stroke="#12b1d6" stroke-width="0.3"/>
<polygon points="115.99,308.92 122.7,313.68 130.13,309.83 123.43,305.08" fill="#e8bb2e" stroke="#e8bb2e" stroke-width="0.3"/>
<polygon points="54.03,291.81 60.78,294.63 68.21,290.8 61.45,287.98" fill="#f6f11f" stroke="#f6f11f" stroke-width="0.3"/>
<polygon points="150.19,326.73 156.86,333.52 164.3,329.62 157.63,322.85" fill="#57cc7a" stroke="#57cc7a" stroke-width="0.3"/>
<polygon points="88.42,300.57 95.14,304.33 102.57,300.49 95.85,296.74" fill="#fcd030" stroke="#fcd030" stroke-width="0.3"/>
<polygon points="184.27,354.16 190.92,364.65 198.36,360.48 191.71,350.03" fill="#259be8" stroke="#259be8" stroke-width="0.3"/>
<polygon points="122.7,313.68 129.39,318.82 136.82,314.97 130.13,309.83" fill="#d0bf27" stroke="#d0bf27" stroke-width="0.3"/>
<polygon points="60.78,294.63 67.52,297.66 74.95,293.83 68.21,290.8" fill="#f5e924" stroke="#f5e924" stroke-width="0.3"/>
<polygon points="156.86,333.52 163.53,340.89 170.96,336.92 164.3,329.62" fill="#35c79b" stroke="#35c79b" stroke-width="0.3"/>
<polygon points="95.14,304.33 101.86,308.38 109.29,304.54 102.57,300.49" fill="#fec537" stroke="#fec537" stroke-width="0.3"/>
<polygon points="190.92,364.65 197.55,376.63 204.99,372.42 198.36,360.48" fill="#337afd" stroke="#337afd" stroke-width="0.3"/>
<polygon points="129.39,318.82 136.08,324.45 143.51,320.58 136.82,314.97" fill="#aec637" stroke="#aec637" stroke-width="0.3"/>
<polygon points="67.52,297.66 74.26,300.91 81.69,297.08 74.95,293.83" fill="#f5e128" stroke="#f5e128" stroke-width="0.3"/>
<polygon points="163.53,340.89 170.19,349.09 177.62,345.05 170.96,336.92" fill="#10beba" stroke="#10beba" stroke-width="0.3"/>
<polygon points="101.86,308.38 108.57,312.76 115.99,308.92 109.29,304.54" fill="#fbbb3e" stroke="#fbbb3e" stroke-width="0.3"/>
<polygon points="197.55,376.63 204.18,390.41 211.62,386.17 204.99,372.42" fill="#4852f4" stroke="#4852f4" stroke-width="0.3"/>
<polygon points="136.08,324.45 142.76,330.62 150.19,326.73 143.51,320.58" fill="#88cb53" stroke="#88cb53" stroke-width="0.3"/>
<polygon points="74.26,300.91 80.99,304.4 88.42,300.57 81.69,297.08" fill="#f8d92b" stroke="#f8d92b" stroke-width="0.3"/>
<polygon points="170.19,349.09 176.84,358.28 184.27,354.16 177.62,345.05" fill="#12b1d6" stroke="#12b1d6" stroke-width="0.3"/>
<polygon points="108.57,312.76 115.27,317.51 122.7,313.68 115.99,308.92" fill="#e8bb2e" stroke="#e8bb2e" stroke-width="0.3"/>
<polygon points="142.76,330.62 149.43,337.42 156.86,333.52 150.19,326.73" fill="#57cc7a" stroke="#57cc7a" stroke-width="0.3"/>
<polygon points="80.99,304.4 87.72,308.16 95.14,304.33 88.42,300.57" fill="#fcd030" stroke="#fcd030" stroke-width="0.3"/>
<polygon points="176.84,358.28 183.48,368.81 190.92,364.65 184.27,354.16" fill="#269ae8" stroke="#269ae8" stroke-width="0.3"/>
<polygon points="115.27,317.51 121.96,322.67 129.39,318.82 122.7,313.68" fill="#d0bf27" stroke="#d0bf27" stroke-width="0.3"/>
<polygon points="149.43,337.42 156.1,344.85 163.53,340.89 156.86,333.52" fill="#35c79b" stroke="#35c79b" stroke-width="0.3"/>
<polygon points="87.72,308.16 94.43,312.21 101.86,308.38 95.14,304.33" fill="#fec537" stroke="#fec537" stroke-width="0.3"/>
<polygon points="183.48,368.81 190.12,380.83 197.55,376.63 190.92,364.65" fill="#3579fd" stroke="#3579fd" stroke-width="0.3"/>
<polygon points="121.96,322.67 128.65,328.31 136.08,324.45 129.39,318.82" fill="#aec637" stroke="#aec637" stroke-width="0.3"/>
<polygon points="156.1,344.85 162.76,353.13 170.19,349.09 163.53,340.89" fill="#10beba" stroke="#10beba" stroke-width="0.3"/>
<polygon points="94.43,312.21 101.14,316.6 108.57,312.76 101.86,308.38" fill="#fbbb3e" stroke="#fbbb3e" stroke-width="0.3"/>
<polygon points="190.12,380.83 196.75,394.64 204.18,390.41 197.55,376.63" fill="#4850f3" stroke="#4850f3" stroke-width="0.3"/>
<polygon points="128.65,328.31 135.33,334.5 142.76,330.62 136.08,324.45" fill="#88cb53" stroke="#88cb53" stroke-width="0.3"/>
<polygon points="162.76,353.13 169.41,362.4 176.84,358.28 170.19,349.09" fill="#12b1d6" stroke="#12b1d6" stroke-width="0.3"/>
<polygon points="101.14,316.6 107.85,321.35 115.27,317.51 108.57,312.76" fill="#eaba30" stroke="#eaba30" stroke-width="0.3"/>
<polygon points="135.33,334.5 142.01,341.31 149.43,337.42 142.76,330.62" fill="#57cc7a" stroke="#57cc7a" stroke-width="0.3"/>
<polygon points="169.41,362.4 176.06,372.97 183.48,368.81 176.84,358.28" fill="#2699e9" stroke="#2699e9" stroke-width="0.3"/>
<polygon points="107.85,321.35 114.54,326.52 121.96,322.67 115.27,317.51" fill="#d0bf27" stroke="#d0bf27" stroke-width="0.3"/>
<polygon points="142.01,341.31 148.68,348.81 156.1,344.85 149.43,337.42" fill="#35c79b" stroke="#35c79b" stroke-width="0.3"/>
<polygon points="176.06,372.97 182.7,385.02 190.12,380.83 183.48,368.81" fill="#3579fd" stroke="#3579fd" stroke-width="0.3"/>
<polygon points="114.54,326.52 121.23,332.17 128.65,328.31 121.96,322.67" fill="#b2c635" stroke="#b2c635" stroke-width="0.3"/>
<polygon points="148.68,348.81 155.34,357.16 162.76,353.13 156.1,344.85" fill="#10beba" stroke="#10beba" stroke-width="0.3"/>
<polygon points="182.7,385.02 189.33,398.87 196.75,394.64 190.12,380.83" fill="#484ff2" stroke="#484ff2" stroke-width="0.3"/>
<polygon points="121.23,332.17 127.91,338.37 135.33,334.5 128.65,328.31" fill="#88cb53" stroke="#88cb53" stroke-width="0.3"/>
<polygon points="155.34,357.16 161.99,366.52 169.41,362.4 162.76,353.13" fill="#14b0d8" stroke="#14b0d8" stroke-width="0.3"/>
<polygon points="127.91,338.37 134.59,345.2 142.01,341.31 135.33,334.5" fill="#5acc77" stroke="#5acc77" stroke-width="0.3"/>
<polygon points="161.99,366.52 168.64,377.13 176.06,372.97 169.41,362.4" fill="#2699e9" stroke="#2699e9" stroke-width="0.3"/>
<polygon points="134.59,345.2 141.26,352.77 148.68,348.81 142.01,341.31" fill="#35c79b" stroke="#35c79b" stroke-width="0.3"/>
<polygon points="168.64,377.13 175.28,389.22 182.7,385.02 176.06,372.97" fill="#3677fe" stroke="#3677fe" stroke-width="0.3"/>
<polygon points="141.26,352.77 147.92,361.19 155.34,357.16 148.68,348.81" fill="#10beba" stroke="#10beba" stroke-width="0.3"/>
<polygon points="175.28,389.22 181.91,403.09 189.33,398.87 182.7,385.02" fill="#484ff2" stroke="#484ff2" stroke-width="0.3"/>
<polygon points="147.92,361.19 154.58,370.63 161.99,366.52 155.34,357.16" fill="#14b0d8" stroke="#14b0d8" stroke-width="0.3"/>
<polygon points="154.58,370.63 161.22,381.29 168.64,377.13 161.99,366.52" fill="#2798ea" stroke="#2798ea" stroke-width="0.3"/>
<polygon points="161.22,381.29 167.87,393.41 175.28,389.22 168.64,377.13" fill="#3876fe" stroke="#3876fe" stroke-width="0.3"/>
<polygon points="167.87,393.41 174.5,407.31 181.91,403.09 175.28,389.22" fill="#484ef1" stroke="#484ef1" stroke-width="0.3"/>
<path d="M40.5 286.69L47.93 282.86L55.37 279.03L62.81 275.19L70.26 271.35L77.72 267.51L85.18 263.67L92.65 259.82L100.13 255.97L107.61 252.11L115.1 248.25M47.27 289.16L54.7 285.33L62.13 281.5L69.58 277.66L77.03 273.82L84.48 269.98L91.94 266.14L99.41 262.29L106.89 258.43L114.37 254.58L121.86 250.72M54.03 291.81L61.45 287.98L68.89 284.14L76.33 280.31L83.78 276.47L91.24 272.62L98.7 268.78L106.16 264.93L113.64 261.07L121.12 257.21L128.61 253.35M60.78 294.63L68.21 290.8L75.64 286.97L83.08 283.13L90.53 279.29L97.98 275.45L105.44 271.6L112.91 267.75L120.38 263.9L127.86 260.04L135.35 256.18M67.52 297.66L74.95 293.83L82.38 290L89.82 286.16L97.27 282.32L104.72 278.47L112.18 274.63L119.65 270.77L127.12 266.92L134.6 263.06L142.08 259.2M74.26 300.91L81.69 297.08L89.12 293.25L96.56 289.41L104 285.57L111.46 281.72L118.91 277.87L126.38 274.02L133.85 270.16L141.33 266.31L148.81 262.44M80.99 304.4L88.42 300.57L95.85 296.74L103.29 292.9L110.73 289.05L118.18 285.21L125.64 281.36L133.1 277.51L140.57 273.65L148.05 269.79L155.53 265.93M87.72 308.16L95.14 304.33L102.57 300.49L110.01 296.65L117.45 292.81L124.9 288.96L132.36 285.11L139.82 281.26L147.29 277.4L154.76 273.54L162.25 269.68M94.43 312.21L101.86 308.38L109.29 304.54L116.72 300.7L124.16 296.86L131.61 293.01L139.07 289.16L146.53 285.3L154 281.45L161.47 277.59L168.95 273.72M101.14 316.6L108.57 312.76L115.99 308.92L123.43 305.08L130.87 301.24L138.32 297.39L145.77 293.54L153.23 289.68L160.7 285.82L168.17 281.96L175.65 278.1M107.85 321.35L115.27 317.51L122.7 313.68L130.13 309.83L137.57 305.99L145.02 302.14L152.47 298.29L159.93 294.43L167.4 290.57L174.87 286.71L182.35 282.84M114.54 326.52L121.96 322.67L129.39 318.82L136.82 314.97L144.26 311.11L151.71 307.24L159.16 303.38L166.62 299.51L174.08 295.64L181.56 291.76L189.03 287.88M121.23 332.17L128.65 328.31L136.08 324.45L143.51 320.58L150.95 316.7L158.39 312.83L165.84 308.95L173.3 305.07L180.77 301.18L188.24 297.29L195.71 293.4M127.91 338.37L135.33 334.5L142.76 330.62L150.19 326.73L157.63 322.85L165.07 318.96L172.52 315.07L179.98 311.17L187.44 307.27L194.91 303.37L202.39 299.46M134.59 345.2L142.01 341.31L149.43 337.42L156.86 333.52L164.3 329.62L171.74 325.72L179.19 321.81L186.65 317.9L194.11 313.99L201.58 310.07L209.05 306.15M141.26 352.77L148.68 348.81L156.1 344.85L163.53 340.89L170.96 336.92L178.41 332.95L185.85 328.98L193.31 325.01L200.77 321.03L208.24 317.04L215.71 313.06M147.92 361.19L155.34 357.16L162.76 353.13L170.19 349.09L177.62 345.05L185.06 341.01L192.51 336.96L199.96 332.91L207.42 328.85L214.89 324.8L222.36 320.74M154.58 370.63L161.99 366.52L169.41 362.4L176.84 358.28L184.27 354.16L191.71 350.03L199.16 345.9L206.61 341.77L214.07 337.63L221.53 333.49L229.01 329.35M161.22 381.29L168.64 377.13L176.06 372.97L183.48 368.81L190.92 364.65L198.36 360.48L205.8 356.31L213.25 352.14L220.71 347.96L228.17 343.78L235.64 339.6M167.87 393.41L175.28 389.22L182.7 385.02L190.12 380.83L197.55 376.63L204.99 372.42L212.44 368.22L219.89 364.01L227.34 359.79L234.81 355.58L242.28 351.36M174.5 407.31L181.91 403.09L189.33 398.87L196.75 394.64L204.18 390.41L211.62 386.17L219.06 381.93L226.51 377.69L233.97 373.45L241.43 369.2L248.9 364.95M40.5 286.69L47.27 289.16L54.03 291.81L60.78 294.63L67.52 297.66L74.26 300.91L80.99 304.4L87.72 308.16L94.43 312.21L101.14 316.6L107.85 321.35L114.54 326.52L121.23 332.17L127.91 338.37L134.59 345.2L141.26 352.77L147.92 361.19L154.58 370.63L161.22 381.29L167.87 393.41L174.5 407.31M47.93 282.86L54.7 285.33L61.45 287.98L68.21 290.8L74.95 293.83L81.69 297.08L88.42 300.57L95.14 304.33L101.86 308.38L108.57 312.76L115.27 317.51L121.96 322.67L128.65 328.31L135.33 334.5L142.01 341.31L148.68 348.81L155.34 357.16L161.99 366.52L168.64 377.13L175.28 389.22L181.91 403.09M55.37 279.03L62.13 281.5L68.89 284.14L75.64 286.97L82.38 290L89.12 293.25L95.85 296.74L102.57 300.49L109.29 304.54L115.99 308.92L122.7 313.68L129.39 318.82L136.08 324.45L142.76 330.62L149.43 337.42L156.1 344.85L162.76 353.13L169.41 362.4L176.06 372.97L182.7 385.02L189.33 398.87M62.81 275.19L69.58 277.66L76.33 280.31L83.08 283.13L89.82 286.16L96.56 289.41L103.29 292.9L110.01 296.65L116.72 300.7L123.43 305.08L130.13 309.83L136.82 314.97L143.51 320.58L150.19 326.73L156.86 333.52L163.53 340.89L170.19 349.09L176.84 358.28L183.48 368.81L190.12 380.83L196.75 394.64M70.26 271.35L77.03 273.82L83.78 276.47L90.53 279.29L97.27 282.32L104 285.57L110.73 289.05L117.45 292.81L124.16 296.86L130.87 301.24L137.57 305.99L144.26 311.11L150.95 316.7L157.63 322.85L164.3 329.62L170.96 336.92L177.62 345.05L184.27 354.16L190.92 364.65L197.55 376.63L204.18 390.41M77.72 267.51L84.48 269.98L91.24 272.62L97.98 275.45L104.72 278.47L111.46 281.72L118.18 285.21L124.9 288.96L131.61 293.01L138.32 297.39L145.02 302.14L151.71 307.24L158.39 312.83L165.07 318.96L171.74 325.72L178.41 332.95L185.06 341.01L191.71 350.03L198.36 360.48L204.99 372.42L211.62 386.17M85.18 263.67L91.94 266.14L98.7 268.78L105.44 271.6L112.18 274.63L118.91 277.87L125.64 281.36L132.36 285.11L139.07 289.16L145.77 293.54L152.47 298.29L159.16 303.38L165.84 308.95L172.52 315.07L179.19 321.81L185.85 328.98L192.51 336.96L199.16 345.9L205.8 356.31L212.44 368.22L219.06 381.93M92.65 259.82L99.41 262.29L106.16 264.93L112.91 267.75L119.65 270.77L126.38 274.02L133.1 277.51L139.82 281.26L146.53 285.3L153.23 289.68L159.93 294.43L166.62 299.51L173.3 305.07L179.98 311.17L186.65 317.9L193.31 325.01L199.96 332.91L206.61 341.77L213.25 352.14L219.89 364.01L226.51 377.69M100.13 255.97L106.89 258.43L113.64 261.07L120.38 263.9L127.12 266.92L133.85 270.16L140.57 273.65L147.29 277.4L154 281.45L160.7 285.82L167.4 290.57L174.08 295.64L180.77 301.18L187.44 307.27L194.11 313.99L200.77 321.03L207.42 328.85L214.07 337.63L220.71 347.96L227.34 359.79L233.97 373.45M107.61 252.11L114.37 254.58L121.12 257.21L127.86 260.04L134.6 263.06L141.33 266.31L148.05 269.79L154.76 273.54L161.47 277.59L168.17 281.96L174.87 286.71L181.56 291.76L188.24 297.29L194.91 303.37L201.58 310.07L208.24 317.04L214.89 324.8L221.53 333.49L228.17 343.78L234.81 355.58L241.43 369.2M115.1 248.25L121.86 250.72L128.61 253.35L135.35 256.18L142.08 259.2L148.81 262.44L155.53 265.93L162.25 269.68L168.95 273.72L175.65 278.1L182.35 282.84L189.03 287.88L195.71 293.4L202.39 299.46L209.05 306.15L215.71 313.06L222.36 320.74L229.01 329.35L235.64 339.6L242.28 351.36L248.9 364.95" fill="none" stroke="#000" stroke-width="0.65" stroke-opacity="0.85" stroke-linejoin="round"/>
<text transform="translate(34.3,389.61) scale(1.0,1.08)" font-size="8.5" text-anchor="end">-18</text>
<text transform="translate(34.3,363.94) scale(1.0,1.08)" font-size="8.5" text-anchor="end">-16</text>
<text transform="translate(34.3,338.26) scale(1.0,1.08)" font-size="8.5" text-anchor="end">-14</text>
<text transform="translate(34.3,312.59) scale(1.0,1.08)" font-size="8.5" text-anchor="end">-12</text>
<text transform="translate(34.3,286.91) scale(1.0,1.08)" font-size="8.5" text-anchor="end">-10</text>
<text transform="translate(29.7,398.91) scale(1.0,1.08)" font-size="8.5" text-anchor="middle">20</text>
<text transform="translate(62.6,404.21) scale(1.0,1.08)" font-size="8.5" text-anchor="middle">30</text>
<text transform="translate(96.6,410.11) scale(1.0,1.08)" font-size="8.5" text-anchor="middle">40</text>
<text transform="translate(130.5,415.41) scale(1.0,1.08)" font-size="8.5" text-anchor="middle">50</text>
<text transform="translate(163.6,420.61) scale(1.0,1.08)" font-size="8.5" text-anchor="middle">60</text>
<text transform="translate(186,417.91) scale(1.0,1.08)" font-size="8.5" text-anchor="middle">0.5</text>
<text transform="translate(226,398.71) scale(1.0,1.08)" font-size="8.5" text-anchor="middle">0.55</text>
<text transform="translate(260.5,378.91) scale(1.0,1.08)" font-size="8.5" text-anchor="middle">0.6</text>
<text transform="translate(101.8,428.8) scale(1.0,1.1)" font-size="9.4" text-anchor="middle">Contact angle (deg)</text>
<text transform="translate(228.6,428.6) scale(1.0,1.1)" font-size="9.4" text-anchor="middle">Conformity factor</text>
<text x="0" y="0" font-size="9.4" text-anchor="middle" transform="translate(17.8,334.95) rotate(-90) scale(1.0,1.1)">First principal curvature radius (mm)</text>
<line x1="316.5" y1="387.2" x2="402.9" y2="357" stroke="#eaeaea" stroke-width="0.6"/>
<line x1="402.9" y1="357" x2="402.9" y2="240.9" stroke="#eaeaea" stroke-width="0.6"/>
<line x1="377.62" y1="397.61" x2="465.31" y2="367.46" stroke="#eaeaea" stroke-width="0.6"/>
<line x1="465.31" y1="367.46" x2="465.31" y2="251.36" stroke="#eaeaea" stroke-width="0.6"/>
<line x1="439.2" y1="408.1" x2="528.2" y2="378" stroke="#eaeaea" stroke-width="0.6"/>
<line x1="528.2" y1="378" x2="528.2" y2="261.9" stroke="#eaeaea" stroke-width="0.6"/>
<line x1="316.5" y1="387.2" x2="439.2" y2="408.1" stroke="#eaeaea" stroke-width="0.6"/>
<line x1="316.5" y1="387.2" x2="316.5" y2="271.1" stroke="#eaeaea" stroke-width="0.6"/>
<line x1="359.36" y1="372.22" x2="483.35" y2="393.17" stroke="#eaeaea" stroke-width="0.6"/>
<line x1="359.36" y1="372.22" x2="359.36" y2="256.12" stroke="#eaeaea" stroke-width="0.6"/>
<line x1="402.9" y1="357" x2="528.2" y2="378" stroke="#eaeaea" stroke-width="0.6"/>
<line x1="402.9" y1="357" x2="402.9" y2="240.9" stroke="#eaeaea" stroke-width="0.6"/>
<line x1="316.5" y1="387.2" x2="402.9" y2="357" stroke="#eaeaea" stroke-width="0.6"/>
<line x1="402.9" y1="357" x2="528.2" y2="378" stroke="#eaeaea" stroke-width="0.6"/>
<line x1="316.5" y1="358.18" x2="402.9" y2="327.98" stroke="#eaeaea" stroke-width="0.6"/>
<line x1="402.9" y1="327.98" x2="528.2" y2="348.98" stroke="#eaeaea" stroke-width="0.6"/>
<line x1="316.5" y1="329.15" x2="402.9" y2="298.95" stroke="#eaeaea" stroke-width="0.6"/>
<line x1="402.9" y1="298.95" x2="528.2" y2="319.95" stroke="#eaeaea" stroke-width="0.6"/>
<line x1="316.5" y1="300.12" x2="402.9" y2="269.93" stroke="#eaeaea" stroke-width="0.6"/>
<line x1="402.9" y1="269.93" x2="528.2" y2="290.93" stroke="#eaeaea" stroke-width="0.6"/>
<line x1="316.5" y1="271.1" x2="402.9" y2="240.9" stroke="#eaeaea" stroke-width="0.6"/>
<line x1="402.9" y1="240.9" x2="528.2" y2="261.9" stroke="#eaeaea" stroke-width="0.6"/>
<line x1="316.5" y1="387.2" x2="316.5" y2="271.1" stroke="#a0a0a0" stroke-width="0.9"/>
<line x1="316.5" y1="387.2" x2="439.2" y2="408.1" stroke="#a0a0a0" stroke-width="0.9"/>
<line x1="439.2" y1="408.1" x2="528.2" y2="378" stroke="#a0a0a0" stroke-width="0.9"/>
<line x1="316.5" y1="387.2" x2="314.1" y2="386.2" stroke="#a0a0a0" stroke-width="0.9"/>
<line x1="316.5" y1="358.18" x2="314.1" y2="357.18" stroke="#a0a0a0" stroke-width="0.9"/>
<line x1="316.5" y1="329.15" x2="314.1" y2="328.15" stroke="#a0a0a0" stroke-width="0.9"/>
<line x1="316.5" y1="300.12" x2="314.1" y2="299.12" stroke="#a0a0a0" stroke-width="0.9"/>
<line x1="316.5" y1="271.1" x2="314.1" y2="270.1" stroke="#a0a0a0" stroke-width="0.9"/>
<line x1="316.5" y1="387.2" x2="314.04" y2="388.03" stroke="#a0a0a0" stroke-width="0.9"/>
<line x1="377.62" y1="397.61" x2="375.16" y2="398.44" stroke="#a0a0a0" stroke-width="0.9"/>
<line x1="439.2" y1="408.1" x2="436.74" y2="408.93" stroke="#a0a0a0" stroke-width="0.9"/>
<line x1="439.2" y1="408.1" x2="441.76" y2="408.54" stroke="#a0a0a0" stroke-width="0.9"/>
<line x1="483.35" y1="393.17" x2="485.91" y2="393.6" stroke="#a0a0a0" stroke-width="0.9"/>
<line x1="528.2" y1="378" x2="530.76" y2="378.44" stroke="#a0a0a0" stroke-width="0.9"/>
<polygon points="398.52,268.26 410.95,279.57 415.34,278.04 402.9,266.73" fill="#f9fb15" stroke="#f9fb15" stroke-width="0.3"/>
<polygon points="394.14,269.79 406.56,281.1 410.95,279.57 398.52,268.26" fill="#f9fb15" stroke="#f9fb15" stroke-width="0.3"/>
<polygon points="410.95,279.57 423.4,290.89 427.81,289.36 415.34,278.04" fill="#fad52e" stroke="#fad52e" stroke-width="0.3"/>
<polygon points="389.77,271.32 402.17,282.63 406.56,281.1 394.14,269.79" fill="#f9fb15" stroke="#f9fb15" stroke-width="0.3"/>
<polygon points="406.56,281.1 418.99,292.42 423.4,290.89 410.95,279.57" fill="#fad52e" stroke="#fad52e" stroke-width="0.3"/>
<polygon points="423.4,290.89 435.87,302.2 440.29,300.67 427.81,289.36" fill="#eaba30" stroke="#eaba30" stroke-width="0.3"/>
<polygon points="385.4,272.85 397.8,284.16 402.17,282.63 389.77,271.32" fill="#f9fb15" stroke="#f9fb15" stroke-width="0.3"/>
<polygon points="402.17,282.63 414.6,293.94 418.99,292.42 406.56,281.1" fill="#fad52e" stroke="#fad52e" stroke-width="0.3"/>
<polygon points="418.99,292.42 431.45,303.73 435.87,302.2 423.4,290.89" fill="#eaba30" stroke="#eaba30" stroke-width="0.3"/>
<polygon points="381.05,274.37 393.43,285.68 397.8,284.16 385.4,272.85" fill="#f9fb15" stroke="#f9fb15" stroke-width="0.3"/>
<polygon points="435.87,302.2 448.35,313.52 452.79,311.99 440.29,300.67" fill="#a1c840" stroke="#a1c840" stroke-width="0.3"/>
<polygon points="397.8,284.16 410.21,295.47 414.6,293.94 402.17,282.63" fill="#fad52e" stroke="#fad52e" stroke-width="0.3"/>
<polygon points="414.6,293.94 427.04,305.26 431.45,303.73 418.99,292.42" fill="#eaba30" stroke="#eaba30" stroke-width="0.3"/>
<polygon points="376.7,275.89 389.06,287.2 393.43,285.68 381.05,274.37" fill="#f9fb15" stroke="#f9fb15" stroke-width="0.3"/>
<polygon points="431.45,303.73 443.92,315.05 448.35,313.52 435.87,302.2" fill="#a1c840" stroke="#a1c840" stroke-width="0.3"/>
<polygon points="393.43,285.68 405.82,296.99 410.21,295.47 397.8,284.16" fill="#fad52e" stroke="#fad52e" stroke-width="0.3"/>
<polygon points="448.35,313.52 460.86,324.84 465.31,323.31 452.79,311.99" fill="#48cb86" stroke="#48cb86" stroke-width="0.3"/>
<polygon points="410.21,295.47 422.64,306.78 427.04,305.26 414.6,293.94" fill="#eaba30" stroke="#eaba30" stroke-width="0.3"/>
<polygon points="372.35,277.41 384.71,288.72 389.06,287.2 376.7,275.89" fill="#f9fb15" stroke="#f9fb15" stroke-width="0.3"/>
<polygon points="427.04,305.26 439.5,316.58 443.92,315.05 431.45,303.73" fill="#a1c840" stroke="#a1c840" stroke-width="0.3"/>
<polygon points="389.06,287.2 401.45,298.51 405.82,296.99 393.43,285.68" fill="#fad52e" stroke="#fad52e" stroke-width="0.3"/>
<polygon points="443.92,315.05 456.42,326.37 460.86,324.84 448.35,313.52" fill="#48cb86" stroke="#48cb86" stroke-width="0.3"/>
<polygon points="405.82,296.99 418.24,308.3 422.64,306.78 410.21,295.47" fill="#eaba30" stroke="#eaba30" stroke-width="0.3"/>
<polygon points="460.86,324.84 473.39,336.17 477.85,334.64 465.31,323.31" fill="#10beba" stroke="#10beba" stroke-width="0.3"/>
<polygon points="368.02,278.93 380.36,290.23 384.71,288.72 372.35,277.41" fill="#f9fb15" stroke="#f9fb15" stroke-width="0.3"/>
<polygon points="422.64,306.78 435.09,318.1 439.5,316.58 427.04,305.26" fill="#a1c840" stroke="#a1c840" stroke-width="0.3"/>
<polygon points="384.71,288.72 397.08,300.03 401.45,298.51 389.06,287.2" fill="#fad52e" stroke="#fad52e" stroke-width="0.3"/>
<polygon points="439.5,316.58 451.98,327.9 456.42,326.37 443.92,315.05" fill="#48cb86" stroke="#48cb86" stroke-width="0.3"/>
<polygon points="401.45,298.51 413.85,309.82 418.24,308.3 405.82,296.99" fill="#eaba30" stroke="#eaba30" stroke-width="0.3"/>
<polygon points="456.42,326.37 468.93,337.7 473.39,336.17 460.86,324.84" fill="#10beba" stroke="#10beba" stroke-width="0.3"/>
<polygon points="363.69,280.44 376.01,291.74 380.36,290.23 368.02,278.93" fill="#f9fb15" stroke="#f9fb15" stroke-width="0.3"/>
<polygon points="418.24,308.3 430.68,319.62 435.09,318.1 422.64,306.78" fill="#a1c840" stroke="#a1c840" stroke-width="0.3"/>
<polygon points="473.39,336.17 485.93,347.5 490.41,345.97 477.85,334.64" fill="#1caadf" stroke="#1caadf" stroke-width="0.3"/>
<polygon points="380.36,290.23 392.72,301.54 397.08,300.03 384.71,288.72" fill="#fad52e" stroke="#fad52e" stroke-width="0.3"/>
<polygon points="435.09,318.1 447.55,329.42 451.98,327.9 439.5,316.58" fill="#48cb86" stroke="#48cb86" stroke-width="0.3"/>
<polygon points="397.08,300.03 409.47,311.34 413.85,309.82 401.45,298.51" fill="#eaba30" stroke="#eaba30" stroke-width="0.3"/>
<polygon points="451.98,327.9 464.48,339.22 468.93,337.7 456.42,326.37" fill="#10beba" stroke="#10beba" stroke-width="0.3"/>
<polygon points="359.36,281.95 371.68,293.25 376.01,291.74 363.69,280.44" fill="#f9fb15" stroke="#f9fb15" stroke-width="0.3"/>
<polygon points="413.85,309.82 426.27,321.14 430.68,319.62 418.24,308.3" fill="#a1c840" stroke="#a1c840" stroke-width="0.3"/>
<polygon points="468.93,337.7 481.46,349.02 485.93,347.5 473.39,336.17" fill="#1caadf" stroke="#1caadf" stroke-width="0.3"/>
<polygon points="376.01,291.74 388.36,303.05 392.72,301.54 380.36,290.23" fill="#fad52e" stroke="#fad52e" stroke-width="0.3"/>
<polygon points="430.68,319.62 443.13,330.94 447.55,329.42 435.09,318.1" fill="#48cb86" stroke="#48cb86" stroke-width="0.3"/>
<polygon points="485.93,347.5 498.5,358.83 502.99,357.3 490.41,345.97" fill="#2d8bf4" stroke="#2d8bf4" stroke-width="0.3"/>
<polygon points="392.72,301.54 405.09,312.85 409.47,311.34 397.08,300.03" fill="#eaba30" stroke="#eaba30" stroke-width="0.3"/>
<polygon points="447.55,329.42 460.04,340.74 464.48,339.22 451.98,327.9" fill="#10beba" stroke="#10beba" stroke-width="0.3"/>
<polygon points="355.05,283.46 367.35,294.76 371.68,293.25 359.36,281.95" fill="#f9fb15" stroke="#f9fb15" stroke-width="0.3"/>
<polygon points="409.47,311.34 421.88,322.65 426.27,321.14 413.85,309.82" fill="#a1c840" stroke="#a1c840" stroke-width="0.3"/>
<polygon points="464.48,339.22 477,350.55 481.46,349.02 468.93,337.7" fill="#1caadf" stroke="#1caadf" stroke-width="0.3"/>
<polygon points="371.68,293.25 384.01,304.56 388.36,303.05 376.01,291.74" fill="#fad52e" stroke="#fad52e" stroke-width="0.3"/>
<polygon points="426.27,321.14 438.72,332.46 443.13,330.94 430.68,319.62" fill="#48cb86" stroke="#48cb86" stroke-width="0.3"/>
<polygon points="481.46,349.02 494.01,360.35 498.5,358.83 485.93,347.5" fill="#2d8bf4" stroke="#2d8bf4" stroke-width="0.3"/>
<polygon points="388.36,303.05 400.73,314.36 405.09,312.85 392.72,301.54" fill="#eaba30" stroke="#eaba30" stroke-width="0.3"/>
<polygon points="443.13,330.94 455.6,342.26 460.04,340.74 447.55,329.42" fill="#10beba" stroke="#10beba" stroke-width="0.3"/>
<polygon points="350.74,284.96 363.03,296.27 367.35,294.76 355.05,283.46" fill="#f9fb15" stroke="#f9fb15" stroke-width="0.3"/>
<polygon points="498.5,358.83 511.08,370.16 515.58,368.64 502.99,357.3" fill="#4367fd" stroke="#4367fd" stroke-width="0.3"/>
<polygon points="405.09,312.85 417.49,324.17 421.88,322.65 409.47,311.34" fill="#a1c840" stroke="#a1c840" stroke-width="0.3"/>
<polygon points="460.04,340.74 472.55,352.07 477,350.55 464.48,339.22" fill="#1caadf" stroke="#1caadf" stroke-width="0.3"/>
<polygon points="367.35,294.76 379.67,306.07 384.01,304.56 371.68,293.25" fill="#fad52e" stroke="#fad52e" stroke-width="0.3"/>
<polygon points="421.88,322.65 434.31,333.97 438.72,332.46 426.27,321.14" fill="#48cb86" stroke="#48cb86" stroke-width="0.3"/>
<polygon points="477,350.55 489.54,361.88 494.01,360.35 481.46,349.02" fill="#2d8bf4" stroke="#2d8bf4" stroke-width="0.3"/>
<polygon points="384.01,304.56 396.36,315.87 400.73,314.36 388.36,303.05" fill="#eaba30" stroke="#eaba30" stroke-width="0.3"/>
<polygon points="438.72,332.46 451.18,343.78 455.6,342.26 443.13,330.94" fill="#10beba" stroke="#10beba" stroke-width="0.3"/>
<polygon points="346.43,286.47 358.71,297.77 363.03,296.27 350.74,284.96" fill="#f9fb15" stroke="#f9fb15" stroke-width="0.3"/>
<polygon points="494.01,360.35 506.58,371.69 511.08,370.16 498.5,358.83" fill="#4367fd" stroke="#4367fd" stroke-width="0.3"/>
<polygon points="400.73,314.36 413.11,325.68 417.49,324.17 405.09,312.85" fill="#a1c840" stroke="#a1c840" stroke-width="0.3"/>
<polygon points="455.6,342.26 468.1,353.59 472.55,352.07 460.04,340.74" fill="#1caadf" stroke="#1caadf" stroke-width="0.3"/>
<polygon points="363.03,296.27 375.33,307.58 379.67,306.07 367.35,294.76" fill="#fad52e" stroke="#fad52e" stroke-width="0.3"/>
<polygon points="511.08,370.16 520.98,379.08 525.5,377.55 515.58,368.64" fill="#4742e6" stroke="#4742e6" stroke-width="0.3"/>
<polygon points="417.49,324.17 429.91,335.49 434.31,333.97 421.88,322.65" fill="#48cb86" stroke="#48cb86" stroke-width="0.3"/>
<polygon points="472.55,352.07 485.07,363.4 489.54,361.88 477,350.55" fill="#2d8bf4" stroke="#2d8bf4" stroke-width="0.3"/>
<polygon points="379.67,306.07 392.01,317.38 396.36,315.87 384.01,304.56" fill="#eaba30" stroke="#eaba30" stroke-width="0.3"/>
<polygon points="434.31,333.97 446.75,345.3 451.18,343.78 438.72,332.46" fill="#10beba" stroke="#10beba" stroke-width="0.3"/>
<polygon points="342.14,287.97 354.4,299.27 358.71,297.77 346.43,286.47" fill="#f9fb15" stroke="#f9fb15" stroke-width="0.3"/>
<polygon points="489.54,361.88 502.1,373.21 506.58,371.69 494.01,360.35" fill="#4367fd" stroke="#4367fd" stroke-width="0.3"/>
<polygon points="396.36,315.87 408.73,327.19 413.11,325.68 400.73,314.36" fill="#a1c840" stroke="#a1c840" stroke-width="0.3"/>
<polygon points="451.18,343.78 463.65,355.11 468.1,353.59 455.6,342.26" fill="#1caadf" stroke="#1caadf" stroke-width="0.3"/>
<polygon points="358.71,297.77 371.01,309.08 375.33,307.58 363.03,296.27" fill="#fad52e" stroke="#fad52e" stroke-width="0.3"/>
<polygon points="506.58,371.69 516.48,380.6 520.98,379.08 511.08,370.16" fill="#4742e6" stroke="#4742e6" stroke-width="0.3"/>
<polygon points="413.11,325.68 425.51,337 429.91,335.49 417.49,324.17" fill="#48cb86" stroke="#48cb86" stroke-width="0.3"/>
<polygon points="468.1,353.59 480.61,364.92 485.07,363.4 472.55,352.07" fill="#2d8bf4" stroke="#2d8bf4" stroke-width="0.3"/>
<polygon points="375.33,307.58 387.66,318.89 392.01,317.38 379.67,306.07" fill="#eaba30" stroke="#eaba30" stroke-width="0.3"/>
<polygon points="429.91,335.49 442.34,346.81 446.75,345.3 434.31,333.97" fill="#10beba" stroke="#10beba" stroke-width="0.3"/>
<polygon points="337.85,289.47 350.1,300.77 354.4,299.27 342.14,287.97" fill="#f9fb15" stroke="#f9fb15" stroke-width="0.3"/>
<polygon points="485.07,363.4 497.61,374.73 502.1,373.21 489.54,361.88" fill="#4367fd" stroke="#4367fd" stroke-width="0.3"/>
<polygon points="392.01,317.38 404.37,328.7 408.73,327.19 396.36,315.87" fill="#a1c840" stroke="#a1c840" stroke-width="0.3"/>
<polygon points="446.75,345.3 459.22,356.62 463.65,355.11 451.18,343.78" fill="#1caadf" stroke="#1caadf" stroke-width="0.3"/>
<polygon points="354.4,299.27 366.68,310.58 371.01,309.08 358.71,297.77" fill="#fad52e" stroke="#fad52e" stroke-width="0.3"/>
<polygon points="502.1,373.21 511.98,382.12 516.48,380.6 506.58,371.69" fill="#4742e6" stroke="#4742e6" stroke-width="0.3"/>
<polygon points="408.73,327.19 421.12,338.51 425.51,337 413.11,325.68" fill="#48cb86" stroke="#48cb86" stroke-width="0.3"/>
<polygon points="463.65,355.11 476.15,366.44 480.61,364.92 468.1,353.59" fill="#2d8bf4" stroke="#2d8bf4" stroke-width="0.3"/>
<polygon points="371.01,309.08 383.32,320.39 387.66,318.89 375.33,307.58" fill="#eaba30" stroke="#eaba30" stroke-width="0.3"/>
<polygon points="425.51,337 437.93,348.32 442.34,346.81 429.91,335.49" fill="#10beba" stroke="#10beba" stroke-width="0.3"/>
<polygon points="333.57,290.97 345.8,302.27 350.1,300.77 337.85,289.47" fill="#f9fb15" stroke="#f9fb15" stroke-width="0.3"/>
<polygon points="480.61,364.92 493.14,376.25 497.61,374.73 485.07,363.4" fill="#4367fd" stroke="#4367fd" stroke-width="0.3"/>
<polygon points="387.66,318.89 400.01,330.2 404.37,328.7 392.01,317.38" fill="#a1c840" stroke="#a1c840" stroke-width="0.3"/>
<polygon points="442.34,346.81 454.79,358.13 459.22,356.62 446.75,345.3" fill="#1caadf" stroke="#1caadf" stroke-width="0.3"/>
<polygon points="350.1,300.77 362.37,312.08 366.68,310.58 354.4,299.27" fill="#fad52e" stroke="#fad52e" stroke-width="0.3"/>
<polygon points="497.61,374.73 507.49,383.64 511.98,382.12 502.1,373.21" fill="#4742e6" stroke="#4742e6" stroke-width="0.3"/>
<polygon points="404.37,328.7 416.74,340.01 421.12,338.51 408.73,327.19" fill="#48cb86" stroke="#48cb86" stroke-width="0.3"/>
<polygon points="459.22,356.62 471.71,367.95 476.15,366.44 463.65,355.11" fill="#2d8bf4" stroke="#2d8bf4" stroke-width="0.3"/>
<polygon points="366.68,310.58 378.98,321.89 383.32,320.39 371.01,309.08" fill="#eaba30" stroke="#eaba30" stroke-width="0.3"/>
<polygon points="421.12,338.51 433.53,349.83 437.93,348.32 425.51,337" fill="#10beba" stroke="#10beba" stroke-width="0.3"/>
<polygon points="329.29,292.46 341.51,303.76 345.8,302.27 333.57,290.97" fill="#f9fb15" stroke="#f9fb15" stroke-width="0.3"/>
<polygon points="476.15,366.44 488.67,377.77 493.14,376.25 480.61,364.92" fill="#4367fd" stroke="#4367fd" stroke-width="0.3"/>
<polygon points="383.32,320.39 395.65,331.7 400.01,330.2 387.66,318.89" fill="#a1c840" stroke="#a1c840" stroke-width="0.3"/>
<polygon points="437.93,348.32 450.37,359.64 454.79,358.13 442.34,346.81" fill="#1caadf" stroke="#1caadf" stroke-width="0.3"/>
<polygon points="345.8,302.27 358.06,313.57 362.37,312.08 350.1,300.77" fill="#fad52e" stroke="#fad52e" stroke-width="0.3"/>
<polygon points="493.14,376.25 503,385.16 507.49,383.64 497.61,374.73" fill="#4742e6" stroke="#4742e6" stroke-width="0.3"/>
<polygon points="400.01,330.2 412.37,341.52 416.74,340.01 404.37,328.7" fill="#48cb86" stroke="#48cb86" stroke-width="0.3"/>
<polygon points="454.79,358.13 467.26,369.46 471.71,367.95 459.22,356.62" fill="#2d8bf4" stroke="#2d8bf4" stroke-width="0.3"/>
<polygon points="362.37,312.08 374.66,323.39 378.98,321.89 366.68,310.58" fill="#eaba30" stroke="#eaba30" stroke-width="0.3"/>
<polygon points="416.74,340.01 429.14,351.33 433.53,349.83 421.12,338.51" fill="#10beba" stroke="#10beba" stroke-width="0.3"/>
<polygon points="325.02,293.95 337.23,305.26 341.51,303.76 329.29,292.46" fill="#f9fb15" stroke="#f9fb15" stroke-width="0.3"/>
<polygon points="471.71,367.95 484.21,379.28 488.67,377.77 476.15,366.44" fill="#4367fd" stroke="#4367fd" stroke-width="0.3"/>
<polygon points="378.98,321.89 391.3,333.2 395.65,331.7 383.32,320.39" fill="#a1c840" stroke="#a1c840" stroke-width="0.3"/>
<polygon points="433.53,349.83 445.96,361.15 450.37,359.64 437.93,348.32" fill="#1caadf" stroke="#1caadf" stroke-width="0.3"/>
<polygon points="341.51,303.76 353.76,315.07 358.06,313.57 345.8,302.27" fill="#fad52e" stroke="#fad52e" stroke-width="0.3"/>
<polygon points="488.67,377.77 498.52,386.68 503,385.16 493.14,376.25" fill="#4742e6" stroke="#4742e6" stroke-width="0.3"/>
<polygon points="395.65,331.7 408,343.02 412.37,341.52 400.01,330.2" fill="#48cb86" stroke="#48cb86" stroke-width="0.3"/>
<polygon points="450.37,359.64 462.83,370.97 467.26,369.46 454.79,358.13" fill="#2d8bf4" stroke="#2d8bf4" stroke-width="0.3"/>
<polygon points="358.06,313.57 370.34,324.88 374.66,323.39 362.37,312.08" fill="#eaba30" stroke="#eaba30" stroke-width="0.3"/>
<polygon points="412.37,341.52 424.75,352.84 429.14,351.33 416.74,340.01" fill="#10beba" stroke="#10beba" stroke-width="0.3"/>
<polygon points="320.76,295.44 332.96,306.75 337.23,305.26 325.02,293.95" fill="#f9fb15" stroke="#f9fb15" stroke-width="0.3"/>
<polygon points="467.26,369.46 479.75,380.79 484.21,379.28 471.71,367.95" fill="#4367fd" stroke="#4367fd" stroke-width="0.3"/>
<polygon points="374.66,323.39 386.96,334.7 391.3,333.2 378.98,321.89" fill="#a1c840" stroke="#a1c840" stroke-width="0.3"/>
<polygon points="429.14,351.33 441.55,362.66 445.96,361.15 433.53,349.83" fill="#1caadf" stroke="#1caadf" stroke-width="0.3"/>
<polygon points="337.23,305.26 349.46,316.56 353.76,315.07 341.51,303.76" fill="#fad52e" stroke="#fad52e" stroke-width="0.3"/>
<polygon points="484.21,379.28 494.05,388.19 498.52,386.68 488.67,377.77" fill="#4742e6" stroke="#4742e6" stroke-width="0.3"/>
<polygon points="391.3,333.2 403.64,344.52 408,343.02 395.65,331.7" fill="#48cb86" stroke="#48cb86" stroke-width="0.3"/>
<polygon points="445.96,361.15 458.4,372.48 462.83,370.97 450.37,359.64" fill="#2d8bf4" stroke="#2d8bf4" stroke-width="0.3"/>
<polygon points="353.76,315.07 366.02,326.38 370.34,324.88 358.06,313.57" fill="#eaba30" stroke="#eaba30" stroke-width="0.3"/>
<polygon points="408,343.02 420.37,354.34 424.75,352.84 412.37,341.52" fill="#10beba" stroke="#10beba" stroke-width="0.3"/>
<polygon points="316.5,296.93 328.69,308.23 332.96,306.75 320.76,295.44" fill="#f9fb15" stroke="#f9fb15" stroke-width="0.3"/>
<polygon points="462.83,370.97 475.31,382.3 479.75,380.79 467.26,369.46" fill="#4367fd" stroke="#4367fd" stroke-width="0.3"/>
<polygon points="370.34,324.88 382.63,336.19 386.96,334.7 374.66,323.39" fill="#a1c840" stroke="#a1c840" stroke-width="0.3"/>
<polygon points="424.75,352.84 437.15,364.16 441.55,362.66 429.14,351.33" fill="#1caadf" stroke="#1caadf" stroke-width="0.3"/>
<polygon points="332.96,306.75 345.18,318.05 349.46,316.56 337.23,305.26" fill="#fad52e" stroke="#fad52e" stroke-width="0.3"/>
<polygon points="479.75,380.79 489.59,389.7 494.05,388.19 484.21,379.28" fill="#4742e6" stroke="#4742e6" stroke-width="0.3"/>
<polygon points="386.96,334.7 399.29,346.01 403.64,344.52 391.3,333.2" fill="#48cb86" stroke="#48cb86" stroke-width="0.3"/>
<polygon points="441.55,362.66 453.98,373.98 458.4,372.48 445.96,361.15" fill="#2d8bf4" stroke="#2d8bf4" stroke-width="0.3"/>
<polygon points="349.46,316.56 361.71,327.87 366.02,326.38 353.76,315.07" fill="#eaba30" stroke="#eaba30" stroke-width="0.3"/>
<polygon points="403.64,344.52 416,355.84 420.37,354.34 408,343.02" fill="#10beba" stroke="#10beba" stroke-width="0.3"/>
<polygon points="458.4,372.48 470.87,383.81 475.31,382.3 462.83,370.97" fill="#4367fd" stroke="#4367fd" stroke-width="0.3"/>
<polygon points="366.02,326.38 378.3,337.69 382.63,336.19 370.34,324.88" fill="#a1c840" stroke="#a1c840" stroke-width="0.3"/>
<polygon points="420.37,354.34 432.76,365.66 437.15,364.16 424.75,352.84" fill="#1caadf" stroke="#1caadf" stroke-width="0.3"/>
<polygon points="328.69,308.23 340.89,319.54 345.18,318.05 332.96,306.75" fill="#fad52e" stroke="#fad52e" stroke-width="0.3"/>
<polygon points="475.31,382.3 485.13,391.21 489.59,389.7 479.75,380.79" fill="#4742e6" stroke="#4742e6" stroke-width="0.3"/>
<polygon points="382.63,336.19 394.94,347.51 399.29,346.01 386.96,334.7" fill="#48cb86" stroke="#48cb86" stroke-width="0.3"/>
<polygon points="437.15,364.16 449.57,375.49 453.98,373.98 441.55,362.66" fill="#2d8bf4" stroke="#2d8bf4" stroke-width="0.3"/>
<polygon points="345.18,318.05 357.41,329.36 361.71,327.87 349.46,316.56" fill="#eaba30" stroke="#eaba30" stroke-width="0.3"/>
<polygon points="399.29,346.01 411.63,357.33 416,355.84 403.64,344.52" fill="#10beba" stroke="#10beba" stroke-width="0.3"/>
<polygon points="453.98,373.98 466.43,385.31 470.87,383.81 458.4,372.48" fill="#4367fd" stroke="#4367fd" stroke-width="0.3"/>
<polygon points="361.71,327.87 373.98,339.18 378.3,337.69 366.02,326.38" fill="#a1c840" stroke="#a1c840" stroke-width="0.3"/>
<polygon points="416,355.84 428.37,367.16 432.76,365.66 420.37,354.34" fill="#1caadf" stroke="#1caadf" stroke-width="0.3"/>
<polygon points="378.3,337.69 390.6,349 394.94,347.51 382.63,336.19" fill="#48cb86" stroke="#48cb86" stroke-width="0.3"/>
<polygon points="470.87,383.81 480.68,392.72 485.13,391.21 475.31,382.3" fill="#4742e6" stroke="#4742e6" stroke-width="0.3"/>
<polygon points="340.89,319.54 353.12,330.84 357.41,329.36 345.18,318.05" fill="#eaba30" stroke="#eaba30" stroke-width="0.3"/>
<polygon points="432.76,365.66 445.16,376.99 449.57,375.49 437.15,364.16" fill="#2d8bf4" stroke="#2d8bf4" stroke-width="0.3"/>
<polygon points="394.94,347.51 407.27,358.83 411.63,357.33 399.29,346.01" fill="#10beba" stroke="#10beba" stroke-width="0.3"/>
<polygon points="357.41,329.36 369.67,340.67 373.98,339.18 361.71,327.87" fill="#a1c840" stroke="#a1c840" stroke-width="0.3"/>
<polygon points="449.57,375.49 462.01,386.81 466.43,385.31 453.98,373.98" fill="#4367fd" stroke="#4367fd" stroke-width="0.3"/>
<polygon points="411.63,357.33 423.99,368.65 428.37,367.16 416,355.84" fill="#1caadf" stroke="#1caadf" stroke-width="0.3"/>
<polygon points="373.98,339.18 386.27,350.49 390.6,349 378.3,337.69" fill="#48cb86" stroke="#48cb86" stroke-width="0.3"/>
<polygon points="466.43,385.31 476.23,394.22 480.68,392.72 470.87,383.81" fill="#4742e6" stroke="#4742e6" stroke-width="0.3"/>
<polygon points="428.37,367.16 440.76,378.48 445.16,376.99 432.76,365.66" fill="#2d8bf4" stroke="#2d8bf4" stroke-width="0.3"/>
<polygon points="390.6,349 402.92,360.32 407.27,358.83 394.94,347.51" fill="#10beba" stroke="#10beba" stroke-width="0.3"/>
<polygon points="353.12,330.84 365.36,342.15 369.67,340.67 357.41,329.36" fill="#a1c840" stroke="#a1c840" stroke-width="0.3"/>
<polygon points="445.16,376.99 457.59,388.31 462.01,386.81 449.57,375.49" fill="#4367fd" stroke="#4367fd" stroke-width="0.3"/>
<polygon points="407.27,358.83 419.62,370.15 423.99,368.65 411.63,357.33" fill="#1caadf" stroke="#1caadf" stroke-width="0.3"/>
<polygon points="369.67,340.67 381.94,351.98 386.27,350.49 373.98,339.18" fill="#48cb86" stroke="#48cb86" stroke-width="0.3"/>
<polygon points="462.01,386.81 471.8,395.72 476.23,394.22 466.43,385.31" fill="#4742e6" stroke="#4742e6" stroke-width="0.3"/>
<polygon points="423.99,368.65 436.37,379.98 440.76,378.48 428.37,367.16" fill="#2d8bf4" stroke="#2d8bf4" stroke-width="0.3"/>
<polygon points="386.27,350.49 398.57,361.81 402.92,360.32 390.6,349" fill="#10beba" stroke="#10beba" stroke-width="0.3"/>
<polygon points="440.76,378.48 453.18,389.81 457.59,388.31 445.16,376.99" fill="#4367fd" stroke="#4367fd" stroke-width="0.3"/>
<polygon points="402.92,360.32 415.25,371.64 419.62,370.15 407.27,358.83" fill="#1caadf" stroke="#1caadf" stroke-width="0.3"/>
<polygon points="365.36,342.15 377.62,353.46 381.94,351.98 369.67,340.67" fill="#48cb86" stroke="#48cb86" stroke-width="0.3"/>
<polygon points="457.59,388.31 467.37,397.22 471.8,395.72 462.01,386.81" fill="#4742e6" stroke="#4742e6" stroke-width="0.3"/>
<polygon points="419.62,370.15 431.99,381.47 436.37,379.98 423.99,368.65" fill="#2d8bf4" stroke="#2d8bf4" stroke-width="0.3"/>
<polygon points="381.94,351.98 394.23,363.29 398.57,361.81 386.27,350.49" fill="#10beba" stroke="#10beba" stroke-width="0.3"/>
<polygon points="436.37,379.98 448.77,391.31 453.18,389.81 440.76,378.48" fill="#4367fd" stroke="#4367fd" stroke-width="0.3"/>
<polygon points="398.57,361.81 410.89,373.13 415.25,371.64 402.92,360.32" fill="#1caadf" stroke="#1caadf" stroke-width="0.3"/>
<polygon points="453.18,389.81 462.95,398.72 467.37,397.22 457.59,388.31" fill="#4742e6" stroke="#4742e6" stroke-width="0.3"/>
<polygon points="415.25,371.64 427.61,382.96 431.99,381.47 419.62,370.15" fill="#2d8bf4" stroke="#2d8bf4" stroke-width="0.3"/>
<polygon points="377.62,353.46 389.9,364.78 394.23,363.29 381.94,351.98" fill="#10beba" stroke="#10beba" stroke-width="0.3"/>
<polygon points="431.99,381.47 444.37,392.8 448.77,391.31 436.37,379.98" fill="#4367fd" stroke="#4367fd" stroke-width="0.3"/>
<polygon points="394.23,363.29 406.54,374.61 410.89,373.13 398.57,361.81" fill="#1caadf" stroke="#1caadf" stroke-width="0.3"/>
<polygon points="448.77,391.31 458.53,400.21 462.95,398.72 453.18,389.81" fill="#4742e6" stroke="#4742e6" stroke-width="0.3"/>
<polygon points="410.89,373.13 423.24,384.45 427.61,382.96 415.25,371.64" fill="#2d8bf4" stroke="#2d8bf4" stroke-width="0.3"/>
<polygon points="427.61,382.96 439.98,394.29 444.37,392.8 431.99,381.47" fill="#4367fd" stroke="#4367fd" stroke-width="0.3"/>
<polygon points="389.9,364.78 402.2,376.1 406.54,374.61 394.23,363.29" fill="#1caadf" stroke="#1caadf" stroke-width="0.3"/>
<polygon points="444.37,392.8 454.12,401.7 458.53,400.21 448.77,391.31" fill="#4742e6" stroke="#4742e6" stroke-width="0.3"/>
<polygon points="406.54,374.61 418.87,385.94 423.24,384.45 410.89,373.13" fill="#2d8bf4" stroke="#2d8bf4" stroke-width="0.3"/>
<polygon points="423.24,384.45 435.6,395.78 439.98,394.29 427.61,382.96" fill="#4367fd" stroke="#4367fd" stroke-width="0.3"/>
<polygon points="439.98,394.29 449.72,403.19 454.12,401.7 444.37,392.8" fill="#4742e6" stroke="#4742e6" stroke-width="0.3"/>
<polygon points="402.2,376.1 414.51,387.42 418.87,385.94 406.54,374.61" fill="#2d8bf4" stroke="#2d8bf4" stroke-width="0.3"/>
<polygon points="418.87,385.94 431.22,397.26 435.6,395.78 423.24,384.45" fill="#4367fd" stroke="#4367fd" stroke-width="0.3"/>
<polygon points="435.6,395.78 445.32,404.68 449.72,403.19 439.98,394.29" fill="#4742e6" stroke="#4742e6" stroke-width="0.3"/>
<polygon points="414.51,387.42 426.85,398.75 431.22,397.26 418.87,385.94" fill="#4367fd" stroke="#4367fd" stroke-width="0.3"/>
<polygon points="431.22,397.26 440.94,406.17 445.32,404.68 435.6,395.78" fill="#4742e6" stroke="#4742e6" stroke-width="0.3"/>
<polygon points="426.85,398.75 436.56,407.65 440.94,406.17 431.22,397.26" fill="#4742e6" stroke="#4742e6" stroke-width="0.3"/>
<path d="M316.5 296.93L320.76 295.44L325.02 293.95L329.29 292.46L333.57 290.97L337.85 289.47L342.14 287.97L346.43 286.47L350.74 284.96L355.05 283.46L359.36 281.95L363.69 280.44L368.02 278.93L372.35 277.41L376.7 275.89L381.05 274.37L385.4 272.85L389.77 271.32L394.14 269.79L398.52 268.26L402.9 266.73M328.69 308.23L332.96 306.75L337.23 305.26L341.51 303.76L345.8 302.27L350.1 300.77L354.4 299.27L358.71 297.77L363.03 296.27L367.35 294.76L371.68 293.25L376.01 291.74L380.36 290.23L384.71 288.72L389.06 287.2L393.43 285.68L397.8 284.16L402.17 282.63L406.56 281.1L410.95 279.57L415.34 278.04M340.89 319.54L345.18 318.05L349.46 316.56L353.76 315.07L358.06 313.57L362.37 312.08L366.68 310.58L371.01 309.08L375.33 307.58L379.67 306.07L384.01 304.56L388.36 303.05L392.72 301.54L397.08 300.03L401.45 298.51L405.82 296.99L410.21 295.47L414.6 293.94L418.99 292.42L423.4 290.89L427.81 289.36M353.12 330.84L357.41 329.36L361.71 327.87L366.02 326.38L370.34 324.88L374.66 323.39L378.98 321.89L383.32 320.39L387.66 318.89L392.01 317.38L396.36 315.87L400.73 314.36L405.09 312.85L409.47 311.34L413.85 309.82L418.24 308.3L422.64 306.78L427.04 305.26L431.45 303.73L435.87 302.2L440.29 300.67M365.36 342.15L369.67 340.67L373.98 339.18L378.3 337.69L382.63 336.19L386.96 334.7L391.3 333.2L395.65 331.7L400.01 330.2L404.37 328.7L408.73 327.19L413.11 325.68L417.49 324.17L421.88 322.65L426.27 321.14L430.68 319.62L435.09 318.1L439.5 316.58L443.92 315.05L448.35 313.52L452.79 311.99M377.62 353.46L381.94 351.98L386.27 350.49L390.6 349L394.94 347.51L399.29 346.01L403.64 344.52L408 343.02L412.37 341.52L416.74 340.01L421.12 338.51L425.51 337L429.91 335.49L434.31 333.97L438.72 332.46L443.13 330.94L447.55 329.42L451.98 327.9L456.42 326.37L460.86 324.84L465.31 323.31M389.9 364.78L394.23 363.29L398.57 361.81L402.92 360.32L407.27 358.83L411.63 357.33L416 355.84L420.37 354.34L424.75 352.84L429.14 351.33L433.53 349.83L437.93 348.32L442.34 346.81L446.75 345.3L451.18 343.78L455.6 342.26L460.04 340.74L464.48 339.22L468.93 337.7L473.39 336.17L477.85 334.64M402.2 376.1L406.54 374.61L410.89 373.13L415.25 371.64L419.62 370.15L423.99 368.65L428.37 367.16L432.76 365.66L437.15 364.16L441.55 362.66L445.96 361.15L450.37 359.64L454.79 358.13L459.22 356.62L463.65 355.11L468.1 353.59L472.55 352.07L477 350.55L481.46 349.02L485.93 347.5L490.41 345.97M414.51 387.42L418.87 385.94L423.24 384.45L427.61 382.96L431.99 381.47L436.37 379.98L440.76 378.48L445.16 376.99L449.57 375.49L453.98 373.98L458.4 372.48L462.83 370.97L467.26 369.46L471.71 367.95L476.15 366.44L480.61 364.92L485.07 363.4L489.54 361.88L494.01 360.35L498.5 358.83L502.99 357.3M426.85 398.75L431.22 397.26L435.6 395.78L439.98 394.29L444.37 392.8L448.77 391.31L453.18 389.81L457.59 388.31L462.01 386.81L466.43 385.31L470.87 383.81L475.31 382.3L479.75 380.79L484.21 379.28L488.67 377.77L493.14 376.25L497.61 374.73L502.1 373.21L506.58 371.69L511.08 370.16L515.58 368.64M316.5 296.93L328.69 308.23L340.89 319.54L353.12 330.84L365.36 342.15L377.62 353.46L389.9 364.78L402.2 376.1L414.51 387.42L426.85 398.75L436.56 407.65M320.76 295.44L332.96 306.75L345.18 318.05L357.41 329.36L369.67 340.67L381.94 351.98L394.23 363.29L406.54 374.61L418.87 385.94L431.22 397.26L440.94 406.17M325.02 293.95L337.23 305.26L349.46 316.56L361.71 327.87L373.98 339.18L386.27 350.49L398.57 361.81L410.89 373.13L423.24 384.45L435.6 395.78L445.32 404.68M329.29 292.46L341.51 303.76L353.76 315.07L366.02 326.38L378.3 337.69L390.6 349L402.92 360.32L415.25 371.64L427.61 382.96L439.98 394.29L449.72 403.19M333.57 290.97L345.8 302.27L358.06 313.57L370.34 324.88L382.63 336.19L394.94 347.51L407.27 358.83L419.62 370.15L431.99 381.47L444.37 392.8L454.12 401.7M337.85 289.47L350.1 300.77L362.37 312.08L374.66 323.39L386.96 334.7L399.29 346.01L411.63 357.33L423.99 368.65L436.37 379.98L448.77 391.31L458.53 400.21M342.14 287.97L354.4 299.27L366.68 310.58L378.98 321.89L391.3 333.2L403.64 344.52L416 355.84L428.37 367.16L440.76 378.48L453.18 389.81L462.95 398.72M346.43 286.47L358.71 297.77L371.01 309.08L383.32 320.39L395.65 331.7L408 343.02L420.37 354.34L432.76 365.66L445.16 376.99L457.59 388.31L467.37 397.22M350.74 284.96L363.03 296.27L375.33 307.58L387.66 318.89L400.01 330.2L412.37 341.52L424.75 352.84L437.15 364.16L449.57 375.49L462.01 386.81L471.8 395.72M355.05 283.46L367.35 294.76L379.67 306.07L392.01 317.38L404.37 328.7L416.74 340.01L429.14 351.33L441.55 362.66L453.98 373.98L466.43 385.31L476.23 394.22M359.36 281.95L371.68 293.25L384.01 304.56L396.36 315.87L408.73 327.19L421.12 338.51L433.53 349.83L445.96 361.15L458.4 372.48L470.87 383.81L480.68 392.72M363.69 280.44L376.01 291.74L388.36 303.05L400.73 314.36L413.11 325.68L425.51 337L437.93 348.32L450.37 359.64L462.83 370.97L475.31 382.3L485.13 391.21M368.02 278.93L380.36 290.23L392.72 301.54L405.09 312.85L417.49 324.17L429.91 335.49L442.34 346.81L454.79 358.13L467.26 369.46L479.75 380.79L489.59 389.7M372.35 277.41L384.71 288.72L397.08 300.03L409.47 311.34L421.88 322.65L434.31 333.97L446.75 345.3L459.22 356.62L471.71 367.95L484.21 379.28L494.05 388.19M376.7 275.89L389.06 287.2L401.45 298.51L413.85 309.82L426.27 321.14L438.72 332.46L451.18 343.78L463.65 355.11L476.15 366.44L488.67 377.77L498.52 386.68M381.05 274.37L393.43 285.68L405.82 296.99L418.24 308.3L430.68 319.62L443.13 330.94L455.6 342.26L468.1 353.59L480.61 364.92L493.14 376.25L503 385.16M385.4 272.85L397.8 284.16L410.21 295.47L422.64 306.78L435.09 318.1L447.55 329.42L460.04 340.74L472.55 352.07L485.07 363.4L497.61 374.73L507.49 383.64M389.77 271.32L402.17 282.63L414.6 293.94L427.04 305.26L439.5 316.58L451.98 327.9L464.48 339.22L477 350.55L489.54 361.88L502.1 373.21L511.98 382.12M394.14 269.79L406.56 281.1L418.99 292.42L431.45 303.73L443.92 315.05L456.42 326.37L468.93 337.7L481.46 349.02L494.01 360.35L506.58 371.69L516.48 380.6M398.52 268.26L410.95 279.57L423.4 290.89L435.87 302.2L448.35 313.52L460.86 324.84L473.39 336.17L485.93 347.5L498.5 358.83L511.08 370.16L520.98 379.08M402.9 266.73L415.34 278.04L427.81 289.36L440.29 300.67L452.79 311.99L465.31 323.31L477.85 334.64L490.41 345.97L502.99 357.3L515.58 368.64L525.5 377.55" fill="none" stroke="#000" stroke-width="0.65" stroke-opacity="0.85" stroke-linejoin="round"/>
<text transform="translate(310.4,390.41) scale(1.0,1.08)" font-size="8.5" text-anchor="end">-1.9</text>
<text transform="translate(310.4,361.39) scale(1.0,1.08)" font-size="8.5" text-anchor="end">-1.8</text>
<text transform="translate(310.4,332.36) scale(1.0,1.08)" font-size="8.5" text-anchor="end">-1.7</text>
<text transform="translate(310.4,303.34) scale(1.0,1.08)" font-size="8.5" text-anchor="end">-1.6</text>
<text transform="translate(310.4,274.31) scale(1.0,1.08)" font-size="8.5" text-anchor="end">-1.5</text>
<text transform="translate(304.2,398.91) scale(1.0,1.08)" font-size="8.5" text-anchor="middle">0.5</text>
<text transform="translate(364.7,409.51) scale(1.0,1.08)" font-size="8.5" text-anchor="middle">0.55</text>
<text transform="translate(429.7,419.71) scale(1.0,1.08)" font-size="8.5" text-anchor="middle">0.6</text>
<text transform="translate(451.8,417.71) scale(1.0,1.08)" font-size="8.5" text-anchor="middle">60</text>
<text transform="translate(495.8,403.21) scale(1.0,1.08)" font-size="8.5" text-anchor="middle">40</text>
<text transform="translate(539.3,388.71) scale(1.0,1.08)" font-size="8.5" text-anchor="middle">20</text>
<text transform="translate(369.2,428) scale(1.0,1.1)" font-size="9.4" text-anchor="middle">Conformity factor</text>
<text transform="translate(502.2,428) scale(1.0,1.1)" font-size="9.4" text-anchor="middle">Contact angle (deg)</text>
<text x="0" y="0" font-size="9.4" text-anchor="middle" transform="translate(291,328.75) rotate(-90) scale(1.0,1.1)">Second principal curvature radius (mm)</text>
<text x="125.1" y="212.3" style="font-family:'Liberation Serif',serif;fill:#000;stroke:none" font-size="12" text-anchor="middle">(<tspan font-weight="bold">a</tspan>)</text>
<text x="400.1" y="212.3" style="font-family:'Liberation Serif',serif;fill:#000;stroke:none" font-size="12" text-anchor="middle">(<tspan font-weight="bold">b</tspan>)</text>
<text x="124.8" y="450" style="font-family:'Liberation Serif',serif;fill:#000;stroke:none" font-size="12" text-anchor="middle">(<tspan font-weight="bold">c</tspan>)</text>
<text x="400.1" y="450" style="font-family:'Liberation Serif',serif;fill:#000;stroke:none" font-size="12" text-anchor="middle">(<tspan font-weight="bold">d</tspan>)</text>
</svg>
</body></html>
